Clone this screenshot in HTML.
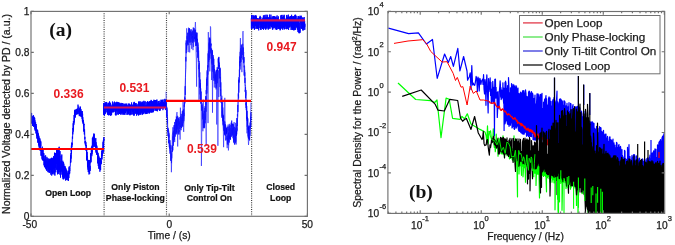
<!DOCTYPE html><html><head><meta charset="utf-8"><style>html,body{margin:0;padding:0;background:#fff}svg{display:block}</style></head><body><svg width="675" height="245" viewBox="0 0 675 245">
<rect width="675" height="245" fill="#fff"/>
<defs><clipPath id="cl"><rect x="31" y="11" width="276" height="205"/></clipPath><clipPath id="cr"><rect x="388" y="11.4" width="276" height="201.9"/></clipPath></defs>
<g stroke="#3a3a3a" stroke-width="1.15" stroke-dasharray="1.1 1.15" fill="none">
<path d="M104.1 11V216"/>
<path d="M166.5 11V216"/>
<path d="M251.6 11V216"/>
</g>
<g clip-path="url(#cl)"><path d="M31.00 120.00 L31.10 123.35 L31.20 121.97 L31.30 115.41 L31.40 116.38 L31.50 123.40 L31.60 112.95 L31.70 122.93 L31.80 122.72 L31.90 118.78 L32.00 116.84 L32.10 116.61 L32.20 116.39 L32.30 118.80 L32.40 119.61 L32.50 120.28 L32.60 125.82 L32.70 123.40 L32.80 121.37 L32.90 126.00 L33.00 116.46 L33.10 116.01 L33.20 121.91 L33.30 115.04 L33.40 115.18 L33.50 121.44 L33.60 121.07 L33.70 127.01 L33.80 123.63 L33.90 122.43 L34.00 122.46 L34.10 119.55 L34.20 116.79 L34.30 119.33 L34.40 125.95 L34.50 119.92 L34.60 122.33 L34.70 117.89 L34.80 128.74 L34.90 120.30 L35.00 122.00 L35.10 130.31 L35.20 125.93 L35.30 130.70 L35.40 128.41 L35.50 130.14 L35.60 122.08 L35.70 128.34 L35.80 128.30 L35.90 133.46 L36.00 127.18 L36.10 130.69 L36.20 124.00 L36.30 128.72 L36.40 128.26 L36.50 126.37 L36.60 135.59 L36.70 130.20 L36.80 138.56 L36.90 133.80 L37.00 134.40 L37.10 135.24 L37.20 136.16 L37.30 129.52 L37.40 133.80 L37.50 131.50 L37.60 134.09 L37.70 130.36 L37.80 142.52 L37.90 132.74 L38.00 139.33 L38.10 134.69 L38.20 142.89 L38.30 140.41 L38.40 133.57 L38.50 143.72 L38.60 145.49 L38.70 145.34 L38.80 141.16 L38.90 135.72 L39.00 136.76 L39.10 147.31 L39.20 142.52 L39.30 137.78 L39.40 147.93 L39.50 144.97 L39.60 144.37 L39.70 142.08 L39.80 142.96 L39.90 140.96 L40.00 138.53 L40.10 150.68 L40.20 145.35 L40.30 146.87 L40.40 144.09 L40.50 150.55 L40.60 140.68 L40.70 145.99 L40.80 141.53 L40.90 143.24 L41.00 155.66 L41.10 151.60 L41.20 148.67 L41.30 150.39 L41.40 155.75 L41.50 148.51 L41.60 152.40 L41.70 154.10 L41.80 149.71 L41.90 152.43 L42.00 156.35 L42.10 158.79 L42.20 148.12 L42.30 159.87 L42.40 146.68 L42.50 157.95 L42.60 159.15 L42.70 149.62 L42.80 154.11 L42.90 160.29 L43.00 148.84 L43.10 158.15 L43.20 160.84 L43.30 156.94 L43.40 160.35 L43.50 153.18 L43.60 153.01 L43.70 155.71 L43.80 153.21 L43.90 155.94 L44.00 165.22 L44.10 159.85 L44.20 156.60 L44.30 155.81 L44.40 166.31 L44.50 158.91 L44.60 167.25 L44.70 160.48 L44.80 160.82 L44.90 166.76 L45.00 164.68 L45.10 162.37 L45.20 160.19 L45.30 167.20 L45.40 160.25 L45.50 168.20 L45.60 155.32 L45.70 160.98 L45.80 162.50 L45.90 169.26 L46.00 158.68 L46.10 167.35 L46.20 165.51 L46.30 166.29 L46.40 165.10 L46.50 170.52 L46.60 160.82 L46.70 161.98 L46.80 159.11 L46.90 156.89 L47.00 159.55 L47.10 170.55 L47.20 169.48 L47.30 158.27 L47.40 166.02 L47.50 164.18 L47.60 166.08 L47.70 167.19 L47.80 161.78 L47.90 172.12 L48.00 164.46 L48.10 167.11 L48.20 167.32 L48.30 160.33 L48.40 158.51 L48.50 164.11 L48.60 169.76 L48.70 170.68 L48.80 169.43 L48.90 159.78 L49.00 172.54 L49.10 170.84 L49.20 172.09 L49.30 166.52 L49.40 172.81 L49.50 159.03 L49.60 158.82 L49.70 158.70 L49.80 162.45 L49.90 162.43 L50.00 161.50 L50.10 167.64 L50.20 159.04 L50.30 168.15 L50.40 161.09 L50.50 169.77 L50.60 158.56 L50.70 163.55 L50.80 174.61 L50.90 167.63 L51.00 172.61 L51.10 169.83 L51.20 168.94 L51.30 161.11 L51.40 168.20 L51.50 158.00 L51.60 172.49 L51.70 175.58 L51.80 173.54 L51.90 157.65 L52.00 163.27 L52.10 162.77 L52.20 158.50 L52.30 168.96 L52.40 172.49 L52.50 162.34 L52.60 173.89 L52.70 172.51 L52.80 158.09 L52.90 171.87 L53.00 174.42 L53.10 159.18 L53.20 167.45 L53.30 168.84 L53.40 168.09 L53.50 156.21 L53.60 169.14 L53.70 168.39 L53.80 172.84 L53.90 172.32 L54.00 160.85 L54.10 170.27 L54.20 173.76 L54.30 174.37 L54.40 156.21 L54.50 152.67 L54.60 168.20 L54.70 157.05 L54.80 165.83 L54.90 175.58 L55.00 160.86 L55.10 157.42 L55.20 162.65 L55.30 167.88 L55.40 152.91 L55.50 160.28 L55.60 153.44 L55.70 167.75 L55.80 172.32 L55.90 159.68 L56.00 159.41 L56.10 164.01 L56.20 154.71 L56.30 155.48 L56.40 157.70 L56.50 161.27 L56.60 150.18 L56.70 169.73 L56.80 164.54 L56.90 156.13 L57.00 149.33 L57.10 169.90 L57.20 150.68 L57.30 150.63 L57.40 150.43 L57.50 148.77 L57.60 174.38 L57.70 154.40 L57.80 155.48 L57.90 172.13 L58.00 165.34 L58.10 151.38 L58.20 159.29 L58.30 173.87 L58.40 157.21 L58.50 168.21 L58.60 147.81 L58.70 168.74 L58.80 170.39 L58.90 172.06 L59.00 166.92 L59.10 156.80 L59.20 146.77 L59.30 162.07 L59.40 170.01 L59.50 151.75 L59.60 154.42 L59.70 163.19 L59.80 169.98 L59.90 174.64 L60.00 151.02 L60.10 153.07 L60.20 171.79 L60.30 167.24 L60.40 169.58 L60.50 177.66 L60.60 175.99 L60.70 173.27 L60.80 171.46 L60.90 160.95 L61.00 167.86 L61.10 155.73 L61.20 171.42 L61.30 171.54 L61.40 170.75 L61.50 163.83 L61.60 162.41 L61.70 163.74 L61.80 154.49 L61.90 174.63 L62.00 167.52 L62.10 164.09 L62.20 168.12 L62.30 172.35 L62.40 164.81 L62.50 175.13 L62.60 177.23 L62.70 165.81 L62.80 160.77 L62.90 174.22 L63.00 179.19 L63.10 162.04 L63.20 173.65 L63.30 176.00 L63.40 177.93 L63.50 162.84 L63.60 162.58 L63.70 179.34 L63.80 163.70 L63.90 165.09 L64.00 172.30 L64.10 170.29 L64.20 175.57 L64.30 166.55 L64.40 178.43 L64.50 167.57 L64.60 176.33 L64.70 165.91 L64.80 172.21 L64.90 166.10 L65.00 170.39 L65.10 170.53 L65.20 176.35 L65.30 172.83 L65.40 167.50 L65.50 180.54 L65.60 179.20 L65.70 179.70 L65.80 170.77 L65.90 172.92 L66.00 170.84 L66.10 169.65 L66.20 168.60 L66.30 174.99 L66.40 170.14 L66.50 171.01 L66.60 180.10 L66.70 175.35 L66.80 171.61 L66.90 178.03 L67.00 173.00 L67.10 176.28 L67.20 173.11 L67.30 176.00 L67.40 177.35 L67.50 176.12 L67.60 174.30 L67.70 179.13 L67.80 180.07 L67.90 171.47 L68.00 170.90 L68.10 170.57 L68.20 180.99 L68.30 180.44 L68.40 171.85 L68.50 180.59 L68.60 171.07 L68.70 174.14 L68.80 173.57 L68.90 177.97 L69.00 167.34 L69.10 170.07 L69.20 172.88 L69.30 166.31 L69.40 167.81 L69.50 169.94 L69.60 174.15 L69.70 172.32 L69.80 172.59 L69.90 171.35 L70.00 170.28 L70.10 170.55 L70.20 167.40 L70.30 166.70 L70.40 160.61 L70.50 157.83 L70.60 163.03 L70.70 155.21 L70.80 162.24 L70.90 157.37 L71.00 153.11 L71.10 158.59 L71.20 148.68 L71.30 151.41 L71.40 145.47 L71.50 153.92 L71.60 148.34 L71.70 149.63 L71.80 142.57 L71.90 147.11 L72.00 144.76 L72.10 142.85 L72.20 145.03 L72.30 138.01 L72.40 136.55 L72.50 138.40 L72.60 138.75 L72.70 131.90 L72.80 134.40 L72.90 127.99 L73.00 130.58 L73.10 132.09 L73.20 123.25 L73.30 129.76 L73.40 120.82 L73.50 130.49 L73.60 124.05 L73.70 122.44 L73.80 125.02 L73.90 121.86 L74.00 123.27 L74.10 115.04 L74.20 119.51 L74.30 118.52 L74.40 121.82 L74.50 110.79 L74.60 115.13 L74.70 116.82 L74.80 115.58 L74.90 109.83 L75.00 115.39 L75.10 110.84 L75.20 110.20 L75.30 117.64 L75.40 109.56 L75.50 112.15 L75.60 115.19 L75.70 114.36 L75.80 112.28 L75.90 114.84 L76.00 110.61 L76.10 112.33 L76.20 114.55 L76.30 112.89 L76.40 112.42 L76.50 109.67 L76.60 111.37 L76.70 109.46 L76.80 113.41 L76.90 109.18 L77.00 110.12 L77.10 113.39 L77.20 110.44 L77.30 108.48 L77.40 114.07 L77.50 108.88 L77.60 114.18 L77.70 113.44 L77.80 109.49 L77.90 112.51 L78.00 104.61 L78.10 108.75 L78.20 114.22 L78.30 111.00 L78.40 110.77 L78.50 112.04 L78.60 112.21 L78.70 111.15 L78.80 109.28 L78.90 106.54 L79.00 107.84 L79.10 107.86 L79.20 109.49 L79.30 116.15 L79.40 108.63 L79.50 109.76 L79.60 108.90 L79.70 111.38 L79.80 115.69 L79.90 115.03 L80.00 109.06 L80.10 107.99 L80.20 115.46 L80.30 111.10 L80.40 113.58 L80.50 106.61 L80.60 116.16 L80.70 109.87 L80.80 112.24 L80.90 108.97 L81.00 111.81 L81.10 116.84 L81.20 117.07 L81.30 113.11 L81.40 116.82 L81.50 113.38 L81.60 112.60 L81.70 114.87 L81.80 111.01 L81.90 112.60 L82.00 117.45 L82.10 118.86 L82.20 111.04 L82.30 119.72 L82.40 121.37 L82.50 117.60 L82.60 113.69 L82.70 121.73 L82.80 117.18 L82.90 122.56 L83.00 120.03 L83.10 123.79 L83.20 119.91 L83.30 123.17 L83.40 124.40 L83.50 126.32 L83.60 121.85 L83.70 131.58 L83.80 124.17 L83.90 125.02 L84.00 125.08 L84.10 123.78 L84.20 129.06 L84.30 134.32 L84.40 134.58 L84.50 129.23 L84.60 129.48 L84.70 132.76 L84.80 139.38 L84.90 136.85 L85.00 143.40 L85.10 141.01 L85.20 141.56 L85.30 144.47 L85.40 145.27 L85.50 140.95 L85.60 140.79 L85.70 144.17 L85.80 145.86 L85.90 142.19 L86.00 147.21 L86.10 150.90 L86.20 145.03 L86.30 146.03 L86.40 147.50 L86.50 149.99 L86.60 160.44 L86.70 148.35 L86.80 151.54 L86.90 152.25 L87.00 157.63 L87.10 152.05 L87.20 159.40 L87.30 156.12 L87.40 158.65 L87.50 167.28 L87.60 158.74 L87.70 165.50 L87.80 162.76 L87.90 163.31 L88.00 169.68 L88.10 160.22 L88.20 172.05 L88.30 171.98 L88.40 168.99 L88.50 160.09 L88.60 169.68 L88.70 169.12 L88.80 172.08 L88.90 163.54 L89.00 174.47 L89.10 173.29 L89.20 161.55 L89.30 164.39 L89.40 159.99 L89.50 171.80 L89.60 172.89 L89.70 173.85 L89.80 168.01 L89.90 168.66 L90.00 168.68 L90.10 166.12 L90.20 170.92 L90.30 164.82 L90.40 159.80 L90.50 161.53 L90.60 153.18 L90.70 162.83 L90.80 161.44 L90.90 156.42 L91.00 161.94 L91.10 159.57 L91.20 152.35 L91.30 147.53 L91.40 147.42 L91.50 147.26 L91.60 148.33 L91.70 149.75 L91.80 156.22 L91.90 145.74 L92.00 154.31 L92.10 150.31 L92.20 152.17 L92.30 144.68 L92.40 137.95 L92.50 148.97 L92.60 140.12 L92.70 137.84 L92.80 146.96 L92.90 144.53 L93.00 136.69 L93.10 137.45 L93.20 147.45 L93.30 137.33 L93.40 143.77 L93.50 135.11 L93.60 145.33 L93.70 134.80 L93.80 140.71 L93.90 133.43 L94.00 141.08 L94.10 145.47 L94.20 133.97 L94.30 136.75 L94.40 144.04 L94.50 141.62 L94.60 137.59 L94.70 142.73 L94.80 140.52 L94.90 147.04 L95.00 138.89 L95.10 146.27 L95.20 144.84 L95.30 146.81 L95.40 141.77 L95.50 147.37 L95.60 147.38 L95.70 143.11 L95.80 138.10 L95.90 152.54 L96.00 149.20 L96.10 142.24 L96.20 150.80 L96.30 144.68 L96.40 148.21 L96.50 154.73 L96.60 149.22 L96.70 147.49 L96.80 148.42 L96.90 145.66 L97.00 148.46 L97.10 149.90 L97.20 149.09 L97.30 148.11 L97.40 154.82 L97.50 151.72 L97.60 160.11 L97.70 163.40 L97.80 154.19 L97.90 159.22 L98.00 158.77 L98.10 152.83 L98.20 154.11 L98.30 166.04 L98.40 160.41 L98.50 165.90 L98.60 155.37 L98.70 163.82 L98.80 168.41 L98.90 168.97 L99.00 156.59 L99.10 164.40 L99.20 162.19 L99.30 168.13 L99.40 157.91 L99.50 160.86 L99.60 169.15 L99.70 164.08 L99.80 163.91 L99.90 171.72 L100.00 162.07 L100.10 157.97 L100.20 163.31 L100.30 159.80 L100.40 158.15 L100.50 164.85 L100.60 170.05 L100.70 163.86 L100.80 164.29 L100.90 158.85 L101.00 161.98 L101.10 164.12 L101.20 161.09 L101.30 163.71 L101.40 159.34 L101.50 153.47 L101.60 158.57 L101.70 156.53 L101.80 150.99 L101.90 157.12 L102.00 159.42 L102.10 148.53 L102.20 154.01 L102.30 156.17 L102.40 150.55 L102.50 147.88 L102.60 148.75 L102.70 150.63 L102.80 152.13 L102.90 149.55 L103.00 142.11 L103.10 152.27 L103.20 153.36 L103.30 140.52 L103.40 142.24 L103.50 140.61 L103.60 150.24 L103.70 150.65 L103.80 137.16 L103.90 140.99 L104.00 138.39" fill="none" stroke="#0000ff" stroke-width="0.9" stroke-linejoin="round" /><path d="M103.50 108.57 L103.60 114.90 L103.70 102.98 L103.80 104.40 L103.90 108.82 L104.00 109.34 L104.10 112.43 L104.20 108.10 L104.30 103.93 L104.40 106.90 L104.50 115.73 L104.60 112.46 L104.70 103.51 L104.80 113.26 L104.90 106.22 L105.00 112.86 L105.10 101.97 L105.20 114.12 L105.30 104.06 L105.40 108.21 L105.50 111.12 L105.60 108.93 L105.70 104.04 L105.80 103.65 L105.90 105.70 L106.00 102.37 L106.10 104.70 L106.20 103.45 L106.30 108.23 L106.40 106.66 L106.50 109.96 L106.60 105.55 L106.70 101.98 L106.80 106.24 L106.90 112.34 L107.00 105.13 L107.10 107.26 L107.20 112.31 L107.30 107.27 L107.40 114.21 L107.50 114.65 L107.60 105.83 L107.70 112.00 L107.80 104.97 L107.90 103.30 L108.00 107.63 L108.10 110.02 L108.20 114.87 L108.30 103.33 L108.40 111.59 L108.50 108.12 L108.60 103.07 L108.70 115.39 L108.80 111.32 L108.90 102.97 L109.00 114.39 L109.10 102.56 L109.20 102.39 L109.30 105.90 L109.40 114.84 L109.50 101.46 L109.60 114.54 L109.70 109.99 L109.80 101.91 L109.90 109.33 L110.00 107.69 L110.10 109.24 L110.20 111.81 L110.30 110.93 L110.40 115.67 L110.50 103.12 L110.60 112.90 L110.70 106.89 L110.80 112.45 L110.90 114.07 L111.00 115.56 L111.10 104.66 L111.20 107.45 L111.30 114.81 L111.40 114.85 L111.50 106.21 L111.60 114.75 L111.70 106.68 L111.80 106.20 L111.90 111.96 L112.00 107.63 L112.10 107.30 L112.20 106.37 L112.30 107.09 L112.40 102.70 L112.50 101.54 L112.60 111.93 L112.70 109.10 L112.80 110.71 L112.90 112.66 L113.00 104.16 L113.10 104.24 L113.20 104.91 L113.30 105.31 L113.40 112.05 L113.50 106.37 L113.60 105.64 L113.70 110.24 L113.80 103.67 L113.90 102.53 L114.00 111.14 L114.10 112.01 L114.20 105.34 L114.30 110.27 L114.40 101.59 L114.50 106.95 L114.60 109.45 L114.70 104.81 L114.80 106.18 L114.90 109.93 L115.00 109.66 L115.10 103.47 L115.20 111.33 L115.30 102.46 L115.40 115.05 L115.50 104.23 L115.60 104.97 L115.70 104.24 L115.80 115.34 L115.90 105.48 L116.00 109.94 L116.10 115.31 L116.20 114.75 L116.30 102.16 L116.40 108.81 L116.50 109.92 L116.60 111.32 L116.70 106.29 L116.80 106.20 L116.90 101.78 L117.00 102.23 L117.10 109.27 L117.20 102.83 L117.30 104.57 L117.40 106.36 L117.50 102.83 L117.60 102.32 L117.70 114.38 L117.80 107.79 L117.90 104.72 L118.00 111.46 L118.10 102.15 L118.20 105.31 L118.30 114.81 L118.40 113.98 L118.50 110.52 L118.60 103.38 L118.70 106.35 L118.80 102.57 L118.90 105.09 L119.00 102.58 L119.10 103.92 L119.20 110.53 L119.30 103.63 L119.40 104.36 L119.50 114.02 L119.60 106.72 L119.70 106.70 L119.80 103.56 L119.90 112.65 L120.00 111.12 L120.10 109.48 L120.20 110.38 L120.30 103.82 L120.40 105.86 L120.50 109.96 L120.60 114.62 L120.70 112.91 L120.80 110.69 L120.90 109.16 L121.00 102.86 L121.10 113.83 L121.20 103.54 L121.30 104.33 L121.40 111.36 L121.50 112.84 L121.60 112.52 L121.70 108.38 L121.80 104.99 L121.90 103.25 L122.00 113.32 L122.10 114.87 L122.20 105.86 L122.30 113.49 L122.40 107.82 L122.50 106.72 L122.60 109.09 L122.70 103.05 L122.80 108.34 L122.90 105.40 L123.00 111.62 L123.10 109.09 L123.20 113.51 L123.30 113.84 L123.40 106.87 L123.50 106.45 L123.60 114.34 L123.70 109.14 L123.80 104.28 L123.90 103.70 L124.00 114.94 L124.10 110.05 L124.20 103.85 L124.30 109.26 L124.40 109.18 L124.50 108.38 L124.60 114.45 L124.70 114.41 L124.80 104.76 L124.90 105.09 L125.00 108.09 L125.10 113.07 L125.20 110.64 L125.30 111.88 L125.40 110.11 L125.50 105.86 L125.60 112.94 L125.70 103.61 L125.80 111.58 L125.90 105.74 L126.00 108.96 L126.10 114.82 L126.20 109.74 L126.30 104.10 L126.40 108.44 L126.50 111.15 L126.60 104.04 L126.70 106.33 L126.80 103.54 L126.90 109.72 L127.00 107.83 L127.10 109.28 L127.20 106.78 L127.30 111.11 L127.40 105.27 L127.50 114.12 L127.60 114.78 L127.70 109.11 L127.80 108.77 L127.90 113.58 L128.00 106.60 L128.10 112.89 L128.20 106.55 L128.30 111.87 L128.40 107.10 L128.50 110.42 L128.60 114.44 L128.70 103.58 L128.80 112.97 L128.90 109.65 L129.00 107.60 L129.10 107.22 L129.20 103.67 L129.30 106.04 L129.40 110.66 L129.50 103.96 L129.60 111.24 L129.70 114.99 L129.80 115.23 L129.90 114.07 L130.00 113.01 L130.10 104.89 L130.20 115.13 L130.30 105.18 L130.40 113.84 L130.50 113.96 L130.60 110.61 L130.70 109.29 L130.80 105.07 L130.90 109.26 L131.00 106.23 L131.10 104.03 L131.20 104.05 L131.30 112.98 L131.40 114.60 L131.50 104.17 L131.60 102.43 L131.70 105.78 L131.80 104.02 L131.90 104.74 L132.00 110.06 L132.10 107.87 L132.20 107.96 L132.30 104.90 L132.40 111.16 L132.50 106.02 L132.60 107.51 L132.70 108.39 L132.80 114.46 L132.90 105.37 L133.00 111.90 L133.10 106.22 L133.20 114.35 L133.30 107.38 L133.40 108.92 L133.50 114.13 L133.60 111.26 L133.70 103.12 L133.80 103.70 L133.90 115.76 L134.00 102.13 L134.10 105.98 L134.20 115.33 L134.30 101.87 L134.40 103.94 L134.50 104.67 L134.60 102.83 L134.70 108.36 L134.80 110.10 L134.90 106.13 L135.00 103.08 L135.10 113.25 L135.20 113.14 L135.30 109.62 L135.40 103.46 L135.50 109.31 L135.60 110.57 L135.70 107.64 L135.80 113.95 L135.90 107.07 L136.00 108.81 L136.10 103.05 L136.20 109.55 L136.30 112.48 L136.40 111.96 L136.50 105.08 L136.60 115.72 L136.70 111.77 L136.80 107.46 L136.90 107.33 L137.00 112.60 L137.10 103.84 L137.20 110.55 L137.30 111.69 L137.40 108.75 L137.50 113.91 L137.60 108.04 L137.70 107.97 L137.80 105.35 L137.90 114.54 L138.00 105.79 L138.10 111.27 L138.20 107.12 L138.30 114.73 L138.40 114.91 L138.50 101.59 L138.60 115.56 L138.70 109.90 L138.80 102.19 L138.90 108.32 L139.00 101.82 L139.10 109.05 L139.20 103.77 L139.30 106.41 L139.40 105.48 L139.50 109.78 L139.60 112.96 L139.70 114.61 L139.80 105.79 L139.90 109.27 L140.00 101.09 L140.10 106.39 L140.20 114.91 L140.30 102.69 L140.40 113.57 L140.50 110.41 L140.60 105.20 L140.70 112.21 L140.80 105.11 L140.90 113.88 L141.00 102.10 L141.10 102.62 L141.20 111.76 L141.30 107.38 L141.40 103.00 L141.50 108.29 L141.60 105.15 L141.70 108.80 L141.80 111.60 L141.90 113.23 L142.00 101.66 L142.10 109.38 L142.20 115.04 L142.30 107.44 L142.40 111.92 L142.50 102.16 L142.60 113.41 L142.70 109.17 L142.80 113.60 L142.90 112.12 L143.00 113.30 L143.10 101.52 L143.20 111.06 L143.30 103.53 L143.40 104.51 L143.50 105.36 L143.60 109.21 L143.70 109.73 L143.80 114.13 L143.90 100.79 L144.00 103.40 L144.10 105.84 L144.20 112.44 L144.30 108.54 L144.40 107.98 L144.50 111.57 L144.60 110.04 L144.70 104.73 L144.80 101.78 L144.90 107.21 L145.00 113.26 L145.10 109.15 L145.20 101.25 L145.30 106.82 L145.40 106.01 L145.50 108.84 L145.60 108.88 L145.70 114.09 L145.80 105.27 L145.90 106.25 L146.00 109.17 L146.10 113.05 L146.20 110.45 L146.30 107.08 L146.40 111.94 L146.50 107.24 L146.60 114.00 L146.70 104.33 L146.80 102.12 L146.90 112.04 L147.00 104.49 L147.10 112.22 L147.20 108.85 L147.30 107.42 L147.40 101.48 L147.50 111.26 L147.60 101.16 L147.70 113.70 L147.80 112.45 L147.90 104.43 L148.00 101.98 L148.10 112.48 L148.20 106.83 L148.30 101.90 L148.40 107.05 L148.50 103.56 L148.60 105.76 L148.70 108.94 L148.80 112.70 L148.90 111.10 L149.00 102.31 L149.10 106.62 L149.20 106.80 L149.30 113.57 L149.40 101.24 L149.50 107.00 L149.60 112.46 L149.70 105.44 L149.80 103.56 L149.90 107.53 L150.00 104.32 L150.10 112.48 L150.20 101.12 L150.30 102.74 L150.40 101.08 L150.50 109.45 L150.60 103.84 L150.70 111.89 L150.80 111.77 L150.90 112.30 L151.00 103.28 L151.10 99.90 L151.20 104.97 L151.30 112.49 L151.40 109.85 L151.50 100.63 L151.60 108.99 L151.70 111.74 L151.80 112.36 L151.90 109.07 L152.00 110.93 L152.10 110.62 L152.20 104.38 L152.30 101.04 L152.40 109.06 L152.50 101.50 L152.60 104.63 L152.70 112.37 L152.80 106.81 L152.90 106.30 L153.00 111.64 L153.10 103.26 L153.20 112.21 L153.30 111.08 L153.40 104.20 L153.50 103.72 L153.60 101.21 L153.70 110.97 L153.80 101.92 L153.90 99.72 L154.00 110.55 L154.10 106.93 L154.20 107.80 L154.30 108.52 L154.40 100.08 L154.50 100.67 L154.60 105.60 L154.70 100.14 L154.80 105.60 L154.90 108.37 L155.00 107.39 L155.10 106.89 L155.20 100.04 L155.30 102.32 L155.40 110.25 L155.50 100.94 L155.60 105.86 L155.70 100.04 L155.80 110.73 L155.90 101.48 L156.00 104.35 L156.10 105.99 L156.20 108.05 L156.30 110.69 L156.40 108.26 L156.50 103.56 L156.60 100.26 L156.70 107.89 L156.80 111.09 L156.90 99.53 L157.00 108.68 L157.10 101.44 L157.20 104.87 L157.30 105.62 L157.40 106.72 L157.50 111.26 L157.60 107.59 L157.70 104.01 L157.80 107.92 L157.90 104.90 L158.00 104.24 L158.10 103.66 L158.20 105.20 L158.30 102.62 L158.40 102.13 L158.50 100.99 L158.60 104.53 L158.70 102.73 L158.80 109.34 L158.90 109.47 L159.00 103.33 L159.10 106.67 L159.20 110.12 L159.30 103.49 L159.40 105.87 L159.50 104.50 L159.60 107.02 L159.70 110.80 L159.80 100.76 L159.90 110.85 L160.00 107.19 L160.10 108.77 L160.20 106.80 L160.30 109.67 L160.40 103.00 L160.50 107.67 L160.60 102.23 L160.70 105.22 L160.80 107.33 L160.90 101.43 L161.00 99.71 L161.10 108.66 L161.20 108.87 L161.30 107.11 L161.40 102.87 L161.50 107.00 L161.60 99.93 L161.70 107.04 L161.80 105.97 L161.90 106.47 L162.00 104.37 L162.10 101.63 L162.20 107.79 L162.30 104.56 L162.40 108.02 L162.50 103.31 L162.60 99.89 L162.70 105.50 L162.80 106.48 L162.90 110.17 L163.00 109.75 L163.10 99.47 L163.20 108.30 L163.30 101.98 L163.40 107.37 L163.50 103.43 L163.60 102.71 L163.70 104.76 L163.80 105.28 L163.90 107.31 L164.00 106.60 L164.10 107.09 L164.20 103.43 L164.30 107.07 L164.40 102.94 L164.50 106.19 L164.60 104.34 L164.70 105.62 L164.80 98.83 L164.90 104.81 L165.00 101.33 L165.10 103.39 L165.20 99.49 L165.30 106.75 L165.40 109.70 L165.50 102.97 L165.60 99.85 L165.70 106.27 L165.80 100.10 L165.90 109.65 L166.00 100.03" fill="none" stroke="#0000ff" stroke-width="0.9" stroke-linejoin="round" /><path d="M166.00 102.34 L166.10 105.04 L166.20 101.56 L166.30 105.09 L166.40 105.64 L166.50 112.13 L166.60 116.63 L166.70 109.99 L166.80 116.44 L166.90 109.37 L167.00 116.01 L167.10 115.48 L167.20 114.96 L167.30 123.14 L167.40 123.52 L167.50 116.91 L167.60 120.29 L167.70 128.53 L167.80 132.17 L167.90 128.48 L168.00 133.29 L168.10 136.16 L168.20 134.24 L168.30 134.29 L168.40 129.88 L168.50 133.23 L168.60 137.70 L168.70 142.88 L168.80 135.25 L168.90 137.54 L169.00 133.31 L169.10 143.77 L169.20 141.20 L169.30 147.23 L169.40 140.20 L169.50 147.29 L169.60 148.49 L169.70 146.48 L169.80 143.47 L169.90 147.58 L170.00 153.59 L170.10 145.95 L170.20 145.00 L170.30 151.05 L170.40 148.17 L170.50 157.17 L170.60 157.98 L170.70 160.47 L170.80 159.43 L170.90 157.05 L171.00 150.53 L171.10 160.84 L171.20 159.93 L171.30 160.77 L171.40 160.55 L171.50 163.17 L171.60 153.62 L171.70 158.32 L171.80 154.67 L171.90 150.62 L172.00 149.23 L172.10 145.26 L172.20 149.46 L172.30 146.27 L172.40 145.92 L172.50 151.74 L172.60 147.78 L172.70 146.57 L172.80 150.40 L172.90 136.52 L173.00 140.13 L173.10 132.58 L173.20 137.00 L173.30 145.80 L173.40 130.59 L173.50 141.38 L173.60 142.64 L173.70 135.95 L173.80 140.32 L173.90 133.58 L174.00 131.46 L174.10 133.50 L174.20 127.47 L174.30 128.82 L174.40 128.17 L174.50 139.63 L174.60 127.48 L174.70 124.97 L174.80 137.06 L174.90 122.12 L175.00 136.38 L175.10 134.15 L175.20 130.24 L175.30 126.11 L175.40 121.78 L175.50 119.96 L175.60 119.72 L175.70 123.91 L175.80 124.75 L175.90 133.74 L176.00 126.64 L176.10 134.51 L176.20 129.52 L176.30 119.14 L176.40 126.15 L176.50 118.98 L176.60 116.67 L176.70 132.42 L176.80 121.55 L176.90 118.74 L177.00 117.01 L177.10 126.77 L177.20 123.52 L177.30 115.76 L177.40 128.16 L177.50 120.26 L177.60 129.49 L177.70 124.50 L177.80 125.42 L177.90 124.16 L178.00 128.05 L178.10 133.58 L178.20 130.35 L178.30 117.86 L178.40 125.31 L178.50 120.92 L178.60 118.76 L178.70 120.46 L178.80 121.48 L178.90 133.78 L179.00 130.19 L179.10 131.83 L179.20 128.99 L179.30 122.26 L179.40 123.35 L179.50 123.99 L179.60 121.29 L179.70 123.27 L179.80 128.99 L179.90 117.02 L180.00 120.23 L180.10 123.45 L180.20 126.57 L180.30 125.85 L180.40 126.98 L180.50 116.38 L180.60 117.45 L180.70 119.40 L180.80 118.75 L180.90 126.47 L181.00 130.22 L181.10 124.85 L181.20 113.84 L181.30 118.04 L181.40 126.22 L181.50 128.03 L181.60 122.37 L181.70 118.10 L181.80 118.01 L181.90 122.40 L182.00 125.99 L182.10 117.19 L182.20 114.53 L182.30 111.26 L182.40 113.27 L182.50 124.74 L182.60 120.83 L182.70 126.59 L182.80 111.40 L182.90 116.02 L183.00 122.80 L183.10 120.08 L183.20 109.92 L183.30 114.81 L183.40 118.09 L183.50 118.36 L183.60 114.02 L183.70 109.26 L183.80 121.21 L183.90 112.66 L184.00 116.14 L184.10 112.69 L184.20 104.89 L184.30 106.85 L184.40 103.54 L184.50 105.05 L184.60 102.70 L184.70 103.64 L184.80 99.65 L184.90 97.80 L185.00 102.57 L185.10 87.34 L185.20 86.15 L185.30 94.92 L185.40 84.83 L185.50 77.59 L185.60 69.13 L185.70 67.82 L185.80 56.97 L185.90 61.45 L186.00 55.18 L186.10 46.15 L186.20 40.39 L186.30 53.20 L186.40 42.78 L186.50 47.51 L186.60 49.73 L186.70 47.77 L186.80 47.80 L186.90 40.83 L187.00 45.48 L187.10 39.18 L187.20 35.82 L187.30 39.10 L187.40 36.57 L187.50 43.27 L187.60 44.11 L187.70 32.86 L187.80 33.03 L187.90 36.34 L188.00 37.41 L188.10 45.10 L188.20 44.67 L188.30 44.87 L188.40 40.88 L188.50 39.84 L188.60 33.13 L188.70 34.56 L188.80 28.44 L188.90 41.53 L189.00 32.42 L189.10 29.30 L189.20 33.12 L189.30 33.27 L189.40 39.72 L189.50 28.26 L189.60 31.88 L189.70 42.58 L189.80 41.94 L189.90 38.36 L190.00 37.28 L190.10 31.92 L190.20 42.43 L190.30 40.64 L190.40 36.68 L190.50 31.01 L190.60 31.92 L190.70 34.60 L190.80 33.84 L190.90 29.45 L191.00 35.13 L191.10 35.86 L191.20 33.22 L191.30 34.86 L191.40 34.02 L191.50 34.79 L191.60 38.85 L191.70 36.86 L191.80 31.88 L191.90 41.92 L192.00 37.22 L192.10 36.27 L192.20 40.53 L192.30 41.17 L192.40 42.79 L192.50 42.12 L192.60 39.68 L192.70 40.54 L192.80 30.86 L192.90 40.12 L193.00 32.44 L193.10 32.46 L193.20 30.04 L193.30 34.78 L193.40 28.20 L193.50 39.23 L193.60 40.79 L193.70 41.25 L193.80 29.90 L193.90 38.84 L194.00 42.29 L194.10 28.11 L194.20 30.85 L194.30 32.12 L194.40 35.52 L194.50 30.33 L194.60 36.83 L194.70 33.31 L194.80 38.85 L194.90 36.60 L195.00 39.35 L195.10 31.72 L195.20 40.34 L195.30 41.15 L195.40 41.23 L195.50 29.65 L195.60 45.94 L195.70 39.51 L195.80 34.23 L195.90 37.49 L196.00 39.32 L196.10 39.63 L196.20 34.94 L196.30 35.55 L196.40 37.67 L196.50 45.73 L196.60 39.63 L196.70 32.48 L196.80 40.51 L196.90 36.10 L197.00 32.83 L197.10 52.05 L197.20 40.24 L197.30 45.91 L197.40 43.58 L197.50 38.85 L197.60 56.03 L197.70 57.78 L197.80 44.54 L197.90 50.03 L198.00 50.24 L198.10 47.33 L198.20 57.92 L198.30 61.31 L198.40 61.96 L198.50 61.40 L198.60 50.42 L198.70 56.33 L198.80 63.69 L198.90 69.17 L199.00 64.77 L199.10 67.80 L199.20 77.31 L199.30 63.00 L199.40 69.63 L199.50 71.84 L199.60 87.58 L199.70 74.18 L199.80 72.38 L199.90 81.53 L200.00 87.99 L200.10 79.40 L200.20 94.46 L200.30 82.93 L200.40 94.42 L200.50 84.90 L200.60 100.63 L200.70 88.36 L200.80 100.29 L200.90 103.77 L201.00 93.43 L201.10 91.52 L201.20 102.72 L201.30 102.31 L201.40 103.25 L201.50 110.63 L201.60 105.13 L201.70 106.67 L201.80 107.35 L201.90 107.56 L202.00 107.45 L202.10 103.42 L202.20 106.97 L202.30 107.23 L202.40 107.76 L202.50 119.32 L202.60 106.81 L202.70 109.51 L202.80 116.79 L202.90 113.38 L203.00 112.80 L203.10 115.60 L203.20 118.31 L203.30 121.89 L203.40 127.98 L203.50 125.72 L203.60 117.40 L203.70 117.97 L203.80 117.38 L203.90 113.98 L204.00 128.37 L204.10 110.84 L204.20 113.70 L204.30 122.97 L204.40 121.66 L204.50 115.57 L204.60 127.74 L204.70 116.19 L204.80 118.93 L204.90 107.82 L205.00 122.82 L205.10 106.06 L205.20 110.88 L205.30 119.71 L205.40 119.90 L205.50 118.08 L205.60 115.55 L205.70 102.67 L205.80 97.64 L205.90 105.04 L206.00 96.26 L206.10 111.71 L206.20 90.16 L206.30 94.01 L206.40 89.07 L206.50 82.77 L206.60 89.98 L206.70 79.02 L206.80 93.00 L206.90 86.25 L207.00 77.40 L207.10 85.16 L207.20 82.60 L207.30 71.53 L207.40 80.28 L207.50 80.25 L207.60 72.40 L207.70 65.37 L207.80 74.68 L207.90 73.86 L208.00 60.28 L208.10 53.39 L208.20 67.36 L208.30 61.63 L208.40 51.31 L208.50 56.34 L208.60 50.50 L208.70 62.05 L208.80 49.84 L208.90 46.26 L209.00 42.53 L209.10 47.85 L209.20 60.12 L209.30 44.03 L209.40 48.16 L209.50 57.78 L209.60 37.80 L209.70 42.90 L209.80 52.76 L209.90 37.58 L210.00 53.57 L210.10 52.19 L210.20 38.86 L210.30 48.35 L210.40 48.11 L210.50 51.37 L210.60 44.14 L210.70 46.18 L210.80 43.82 L210.90 45.34 L211.00 43.51 L211.10 58.59 L211.20 58.75 L211.30 48.70 L211.40 55.86 L211.50 52.31 L211.60 48.62 L211.70 50.49 L211.80 63.30 L211.90 51.33 L212.00 56.57 L212.10 64.65 L212.20 52.45 L212.30 63.43 L212.40 50.28 L212.50 63.42 L212.60 65.63 L212.70 67.00 L212.80 70.50 L212.90 65.97 L213.00 72.04 L213.10 58.82 L213.20 64.43 L213.30 59.03 L213.40 57.17 L213.50 65.03 L213.60 71.39 L213.70 73.32 L213.80 58.84 L213.90 78.09 L214.00 64.94 L214.10 66.34 L214.20 77.65 L214.30 79.38 L214.40 76.73 L214.50 69.16 L214.60 72.26 L214.70 80.19 L214.80 71.15 L214.90 80.61 L215.00 80.64 L215.10 74.87 L215.20 83.91 L215.30 74.20 L215.40 81.98 L215.50 80.28 L215.60 74.65 L215.70 79.13 L215.80 81.10 L215.90 80.23 L216.00 72.30 L216.10 89.38 L216.20 88.54 L216.30 69.88 L216.40 87.41 L216.50 78.95 L216.60 70.65 L216.70 83.96 L216.80 76.02 L216.90 81.17 L217.00 83.07 L217.10 77.08 L217.20 67.21 L217.30 81.95 L217.40 79.11 L217.50 82.97 L217.60 69.54 L217.70 78.53 L217.80 79.23 L217.90 68.19 L218.00 68.26 L218.10 65.79 L218.20 58.47 L218.30 61.83 L218.40 62.76 L218.50 57.47 L218.60 69.10 L218.70 61.60 L218.80 63.31 L218.90 56.88 L219.00 57.33 L219.10 66.50 L219.20 62.76 L219.30 66.84 L219.40 65.20 L219.50 69.42 L219.60 77.54 L219.70 67.26 L219.80 73.69 L219.90 78.54 L220.00 68.86 L220.10 87.05 L220.20 79.98 L220.30 76.87 L220.40 88.23 L220.50 90.93 L220.60 89.12 L220.70 96.13 L220.80 82.31 L220.90 92.18 L221.00 97.87 L221.10 102.77 L221.20 99.30 L221.30 100.24 L221.40 97.92 L221.50 103.00 L221.60 104.35 L221.70 112.50 L221.80 112.71 L221.90 112.71 L222.00 117.82 L222.10 102.76 L222.20 116.46 L222.30 111.58 L222.40 117.62 L222.50 110.01 L222.60 113.90 L222.70 121.19 L222.80 107.51 L222.90 112.94 L223.00 117.29 L223.10 124.65 L223.20 114.82 L223.30 125.62 L223.40 115.87 L223.50 117.68 L223.60 122.97 L223.70 125.53 L223.80 130.36 L223.90 131.09 L224.00 120.50 L224.10 129.82 L224.20 128.23 L224.30 124.15 L224.40 131.57 L224.50 134.16 L224.60 127.03 L224.70 135.29 L224.80 121.50 L224.90 122.59 L225.00 133.76 L225.10 125.90 L225.20 131.34 L225.30 130.15 L225.40 124.22 L225.50 135.58 L225.60 135.75 L225.70 125.41 L225.80 127.88 L225.90 138.01 L226.00 140.42 L226.10 139.86 L226.20 133.43 L226.30 131.21 L226.40 132.81 L226.50 128.17 L226.60 134.13 L226.70 129.56 L226.80 128.52 L226.90 132.65 L227.00 127.15 L227.10 134.67 L227.20 138.93 L227.30 138.33 L227.40 144.35 L227.50 142.94 L227.60 138.61 L227.70 143.56 L227.80 135.60 L227.90 142.18 L228.00 133.12 L228.10 137.28 L228.20 145.24 L228.30 138.18 L228.40 136.32 L228.50 141.17 L228.60 132.42 L228.70 141.56 L228.80 126.73 L228.90 130.49 L229.00 129.19 L229.10 130.43 L229.20 142.62 L229.30 125.83 L229.40 130.58 L229.50 135.34 L229.60 137.46 L229.70 138.53 L229.80 131.30 L229.90 128.16 L230.00 139.34 L230.10 125.95 L230.20 124.67 L230.30 127.42 L230.40 131.87 L230.50 139.71 L230.60 135.62 L230.70 132.40 L230.80 131.38 L230.90 134.23 L231.00 132.78 L231.10 127.30 L231.20 122.67 L231.30 124.37 L231.40 134.59 L231.50 131.67 L231.60 134.35 L231.70 120.55 L231.80 135.71 L231.90 126.13 L232.00 135.67 L232.10 130.05 L232.20 129.55 L232.30 134.78 L232.40 131.66 L232.50 132.89 L232.60 123.94 L232.70 132.33 L232.80 128.22 L232.90 123.51 L233.00 124.90 L233.10 131.49 L233.20 127.93 L233.30 137.33 L233.40 126.10 L233.50 124.50 L233.60 142.55 L233.70 130.58 L233.80 134.48 L233.90 129.43 L234.00 129.76 L234.10 133.39 L234.20 140.52 L234.30 127.15 L234.40 141.67 L234.50 144.57 L234.60 136.96 L234.70 133.53 L234.80 131.41 L234.90 130.64 L235.00 133.32 L235.10 142.98 L235.20 127.86 L235.30 142.10 L235.40 140.11 L235.50 128.59 L235.60 129.65 L235.70 141.78 L235.80 140.82 L235.90 134.49 L236.00 144.50 L236.10 131.58 L236.20 134.28 L236.30 127.47 L236.40 135.82 L236.50 124.57 L236.60 125.03 L236.70 134.39 L236.80 128.40 L236.90 130.11 L237.00 130.21 L237.10 126.72 L237.20 118.16 L237.30 125.97 L237.40 114.29 L237.50 115.86 L237.60 116.40 L237.70 107.73 L237.80 104.91 L237.90 112.07 L238.00 111.02 L238.10 101.67 L238.20 99.35 L238.30 93.40 L238.40 96.39 L238.50 94.78 L238.60 98.47 L238.70 79.73 L238.80 92.69 L238.90 91.50 L239.00 77.23 L239.10 82.40 L239.20 82.51 L239.30 77.72 L239.40 69.53 L239.50 73.88 L239.60 76.78 L239.70 61.26 L239.80 66.31 L239.90 56.41 L240.00 69.54 L240.10 66.68 L240.20 51.83 L240.30 62.76 L240.40 60.11 L240.50 48.27 L240.60 55.12 L240.70 57.74 L240.80 51.04 L240.90 53.74 L241.00 61.90 L241.10 55.44 L241.20 52.70 L241.30 44.52 L241.40 45.18 L241.50 57.98 L241.60 55.70 L241.70 57.03 L241.80 52.07 L241.90 51.70 L242.00 50.55 L242.10 54.56 L242.20 47.61 L242.30 50.94 L242.40 50.79 L242.50 54.58 L242.60 46.89 L242.70 43.78 L242.80 45.26 L242.90 47.23 L243.00 59.76 L243.10 57.57 L243.20 58.50 L243.30 53.33 L243.40 47.52 L243.50 54.37 L243.60 63.20 L243.70 58.50 L243.80 62.37 L243.90 59.40 L244.00 57.03 L244.10 67.28 L244.20 66.40 L244.30 65.55 L244.40 65.65 L244.50 75.19 L244.60 70.06 L244.70 76.37 L244.80 72.34 L244.90 82.89 L245.00 77.75 L245.10 81.61 L245.20 91.70 L245.30 89.93 L245.40 92.25 L245.50 87.11 L245.60 98.13 L245.70 91.94 L245.80 104.79 L245.90 105.13 L246.00 102.86 L246.10 107.97 L246.20 104.79 L246.30 110.20 L246.40 101.25 L246.50 118.79 L246.60 116.60 L246.70 105.96 L246.80 108.97 L246.90 116.15 L247.00 120.73 L247.10 110.88 L247.20 126.69 L247.30 116.83 L247.40 129.71 L247.50 126.55 L247.60 122.94 L247.70 121.93 L247.80 118.34 L247.90 119.38 L248.00 130.33 L248.10 133.39 L248.20 136.27 L248.30 126.97 L248.40 137.74 L248.50 126.68 L248.60 138.72 L248.70 138.81 L248.80 125.52 L248.90 138.69 L249.00 136.33 L249.10 136.78 L249.20 139.73 L249.30 134.73 L249.40 134.66 L249.50 132.61 L249.60 140.57 L249.70 140.22 L249.80 125.89 L249.90 135.90 L250.00 125.96 L250.10 123.31 L250.20 122.55 L250.30 128.32 L250.40 122.04 L250.50 120.36 L250.60 116.77 L250.70 119.84 L250.80 126.93 L250.90 112.39 L251.00 119.69" fill="none" stroke="#0000ff" stroke-width="0.7" stroke-linejoin="round" /><path d="M166.00 91.67 L166.30 104.75 L166.60 105.96 L166.90 117.27 L167.20 107.52 L167.50 131.64 L167.80 127.58 L168.10 136.20 L168.40 128.57 L168.70 131.28 L169.00 131.71 L169.30 138.97 L169.60 146.05 L169.90 147.66 L170.20 140.28 L170.50 150.62 L170.80 147.32 L171.10 157.12 L171.40 172.23 L171.70 160.60 L172.00 149.47 L172.30 135.17 L172.60 133.18 L172.90 127.22 L173.20 144.87 L173.50 130.55 L173.80 125.27 L174.10 128.06 L174.40 132.39 L174.70 142.03 L175.00 121.97 L175.30 124.41 L175.60 119.76 L175.90 133.80 L176.20 116.72 L176.50 115.24 L176.80 112.49 L177.10 112.07 L177.40 128.41 L177.70 146.46 L178.00 116.61 L178.30 133.29 L178.60 127.70 L178.90 134.88 L179.20 123.31 L179.50 123.08 L179.80 118.73 L180.10 139.59 L180.40 107.68 L180.70 125.69 L181.00 124.67 L181.30 116.75 L181.60 122.00 L181.90 127.18 L182.20 120.81 L182.50 122.29 L182.80 123.84 L183.10 101.60 L183.40 127.36 L183.70 131.89 L184.00 120.22 L184.30 118.87 L184.60 96.66 L184.90 99.09 L185.20 86.25 L185.50 74.05 L185.80 68.87 L186.10 42.81 L186.40 45.00 L186.70 28.30 L187.00 38.78 L187.30 40.09 L187.60 33.37 L187.90 32.66 L188.20 52.13 L188.50 27.68 L188.80 28.31 L189.10 29.80 L189.40 45.36 L189.70 52.42 L190.00 38.89 L190.30 30.84 L190.60 33.16 L190.90 45.15 L191.20 29.36 L191.50 48.74 L191.80 48.68 L192.10 37.56 L192.40 42.35 L192.70 43.21 L193.00 50.17 L193.30 27.33 L193.60 46.97 L193.90 32.99 L194.20 29.29 L194.50 37.11 L194.80 34.08 L195.10 27.03 L195.40 22.05 L195.70 29.07 L196.00 53.06 L196.30 59.09 L196.60 86.67 L196.90 53.53 L197.20 38.93 L197.50 46.55 L197.80 53.44 L198.10 42.52 L198.40 46.57 L198.70 62.63 L199.00 99.84 L199.30 60.95 L199.60 82.00 L199.90 80.31 L200.20 98.90 L200.50 91.61 L200.80 92.36 L201.10 101.07 L201.40 165.96 L201.70 142.92 L202.00 104.91 L202.30 120.18 L202.60 121.65 L202.90 131.28 L203.20 99.64 L203.50 114.34 L203.80 114.51 L204.10 121.36 L204.40 114.89 L204.70 112.35 L205.00 123.61 L205.30 113.96 L205.60 96.17 L205.90 120.68 L206.20 145.56 L206.50 86.19 L206.80 94.14 L207.10 70.25 L207.40 85.72 L207.70 65.94 L208.00 123.11 L208.30 32.08 L208.60 45.91 L208.90 54.45 L209.20 52.26 L209.50 48.73 L209.80 71.36 L210.10 58.82 L210.40 26.42 L210.70 27.64 L211.00 52.69 L211.30 50.36 L211.60 80.05 L211.90 50.22 L212.20 54.52 L212.50 112.72 L212.80 54.96 L213.10 56.83 L213.40 55.34 L213.70 80.82 L214.00 69.83 L214.30 87.51 L214.60 70.25 L214.90 75.29 L215.20 74.13 L215.50 82.53 L215.80 87.93 L216.10 82.24 L216.40 71.49 L216.70 124.49 L217.00 94.11 L217.30 88.50 L217.60 70.98 L217.90 145.77 L218.20 79.12 L218.50 70.42 L218.80 97.06 L219.10 85.19 L219.40 70.57 L219.70 77.06 L220.00 74.99 L220.30 67.94 L220.60 73.81 L220.90 95.56 L221.20 100.38 L221.50 99.41 L221.80 95.73 L222.10 97.39 L222.40 109.99 L222.70 101.97 L223.00 125.63 L223.30 130.09 L223.60 147.17 L223.90 132.00 L224.20 120.58 L224.50 119.33 L224.80 97.82 L225.10 124.16 L225.40 129.04 L225.70 140.32 L226.00 138.38 L226.30 138.78 L226.60 136.08 L226.90 140.62 L227.20 148.14 L227.50 126.63 L227.80 132.58 L228.10 124.58 L228.40 150.44 L228.70 147.01 L229.00 141.62 L229.30 123.85 L229.60 135.32 L229.90 131.14 L230.20 133.21 L230.50 130.09 L230.80 135.58 L231.10 126.78 L231.40 137.02 L231.70 130.87 L232.00 125.42 L232.30 128.07 L232.60 126.22 L232.90 138.31 L233.20 129.81 L233.50 135.85 L233.80 130.85 L234.10 122.08 L234.40 143.57 L234.70 126.74 L235.00 142.48 L235.30 140.65 L235.60 122.83 L235.90 129.54 L236.20 131.08 L236.50 124.78 L236.80 118.00 L237.10 131.31 L237.40 119.09 L237.70 118.06 L238.00 102.88 L238.30 101.35 L238.60 84.06 L238.90 82.43 L239.20 81.79 L239.50 72.06 L239.80 62.64 L240.10 52.10 L240.40 38.09 L240.70 57.37 L241.00 51.06 L241.30 45.56 L241.60 56.11 L241.90 72.17 L242.20 48.01 L242.50 54.63 L242.80 32.10 L243.10 31.08 L243.40 55.76 L243.70 52.12 L244.00 75.52 L244.30 66.10 L244.60 66.49 L244.90 76.41 L245.20 85.47 L245.50 85.07 L245.80 95.54 L246.10 90.08 L246.40 106.02 L246.70 119.23 L247.00 133.33 L247.30 125.82 L247.60 125.59 L247.90 137.22 L248.20 137.90 L248.50 144.98 L248.80 141.26 L249.10 132.10 L249.40 136.81 L249.70 134.58 L250.00 132.66 L250.30 128.76 L250.60 117.11 L250.90 102.49" fill="none" stroke="#1a1aff" stroke-width="0.6" stroke-linejoin="round" /><path d="M251.20 18.33 L251.30 24.49 L251.40 28.67 L251.50 19.66 L251.60 15.30 L251.70 17.78 L251.80 29.04 L251.90 15.09 L252.00 15.81 L252.10 16.48 L252.20 28.44 L252.30 20.78 L252.40 25.43 L252.50 25.65 L252.60 21.55 L252.70 26.05 L252.80 21.96 L252.90 23.18 L253.00 19.64 L253.10 15.03 L253.20 23.97 L253.30 19.02 L253.40 19.16 L253.50 28.30 L253.60 20.48 L253.70 16.55 L253.80 24.55 L253.90 23.16 L254.00 15.87 L254.10 20.29 L254.20 24.28 L254.30 19.25 L254.40 29.98 L254.50 27.14 L254.60 22.66 L254.70 28.92 L254.80 15.53 L254.90 18.42 L255.00 28.93 L255.10 22.75 L255.20 17.59 L255.30 23.69 L255.40 26.13 L255.50 24.20 L255.60 15.70 L255.70 15.56 L255.80 21.21 L255.90 15.25 L256.00 16.28 L256.10 24.82 L256.20 21.70 L256.30 16.31 L256.40 28.41 L256.50 20.64 L256.60 28.52 L256.70 24.33 L256.80 24.51 L256.90 21.50 L257.00 25.30 L257.10 18.74 L257.20 18.95 L257.30 28.43 L257.40 18.13 L257.50 20.93 L257.60 26.44 L257.70 20.07 L257.80 20.63 L257.90 28.99 L258.00 18.18 L258.10 18.71 L258.20 28.66 L258.30 19.24 L258.40 20.09 L258.50 28.60 L258.60 19.95 L258.70 30.38 L258.80 27.68 L258.90 28.07 L259.00 18.49 L259.10 18.35 L259.20 26.63 L259.30 27.78 L259.40 18.47 L259.50 18.19 L259.60 18.77 L259.70 17.13 L259.80 21.52 L259.90 22.79 L260.00 24.74 L260.10 15.85 L260.20 17.97 L260.30 16.80 L260.40 19.17 L260.50 17.85 L260.60 29.48 L260.70 20.75 L260.80 17.11 L260.90 25.28 L261.00 30.03 L261.10 27.26 L261.20 24.99 L261.30 20.80 L261.40 21.18 L261.50 19.61 L261.60 27.42 L261.70 27.37 L261.80 22.50 L261.90 28.26 L262.00 25.01 L262.10 25.52 L262.20 19.06 L262.30 18.63 L262.40 18.41 L262.50 29.02 L262.60 27.27 L262.70 28.80 L262.80 27.61 L262.90 27.33 L263.00 21.61 L263.10 26.71 L263.20 17.42 L263.30 25.00 L263.40 15.49 L263.50 29.79 L263.60 28.45 L263.70 17.37 L263.80 26.73 L263.90 27.57 L264.00 15.45 L264.10 23.57 L264.20 21.30 L264.30 24.38 L264.40 28.52 L264.50 25.98 L264.60 18.04 L264.70 23.36 L264.80 23.47 L264.90 14.93 L265.00 16.79 L265.10 20.32 L265.20 17.50 L265.30 18.41 L265.40 25.21 L265.50 29.63 L265.60 21.82 L265.70 24.73 L265.80 26.51 L265.90 25.14 L266.00 24.88 L266.10 14.71 L266.20 28.17 L266.30 17.18 L266.40 17.48 L266.50 22.58 L266.60 23.77 L266.70 26.38 L266.80 19.20 L266.90 29.31 L267.00 24.39 L267.10 27.73 L267.20 22.03 L267.30 15.74 L267.40 14.82 L267.50 24.55 L267.60 21.23 L267.70 21.44 L267.80 19.66 L267.90 17.37 L268.00 21.94 L268.10 18.54 L268.20 28.43 L268.30 17.36 L268.40 29.58 L268.50 27.91 L268.60 20.52 L268.70 26.54 L268.80 23.56 L268.90 21.78 L269.00 27.14 L269.10 27.42 L269.20 17.66 L269.30 28.58 L269.40 15.03 L269.50 14.61 L269.60 22.02 L269.70 19.19 L269.80 21.06 L269.90 21.93 L270.00 21.76 L270.10 28.58 L270.20 28.74 L270.30 19.88 L270.40 18.98 L270.50 24.66 L270.60 17.61 L270.70 20.74 L270.80 25.67 L270.90 14.63 L271.00 26.51 L271.10 25.93 L271.20 20.56 L271.30 18.41 L271.40 22.94 L271.50 19.16 L271.60 27.31 L271.70 23.74 L271.80 19.34 L271.90 27.11 L272.00 24.02 L272.10 16.65 L272.20 21.03 L272.30 22.21 L272.40 29.26 L272.50 19.60 L272.60 21.58 L272.70 29.78 L272.80 21.25 L272.90 27.47 L273.00 16.15 L273.10 20.76 L273.20 17.51 L273.30 28.37 L273.40 23.24 L273.50 18.06 L273.60 16.11 L273.70 21.21 L273.80 16.18 L273.90 22.22 L274.00 26.00 L274.10 19.52 L274.20 17.31 L274.30 20.32 L274.40 17.30 L274.50 27.80 L274.60 16.22 L274.70 26.22 L274.80 19.91 L274.90 26.03 L275.00 26.70 L275.10 16.85 L275.20 26.49 L275.30 29.42 L275.40 23.56 L275.50 24.77 L275.60 19.78 L275.70 17.49 L275.80 26.33 L275.90 27.51 L276.00 18.00 L276.10 16.56 L276.20 20.27 L276.30 24.52 L276.40 20.48 L276.50 29.77 L276.60 27.10 L276.70 29.04 L276.80 24.13 L276.90 26.56 L277.00 29.59 L277.10 15.41 L277.20 23.77 L277.30 17.76 L277.40 27.19 L277.50 18.48 L277.60 26.38 L277.70 20.04 L277.80 24.99 L277.90 25.42 L278.00 28.99 L278.10 28.43 L278.20 21.70 L278.30 25.59 L278.40 17.75 L278.50 16.45 L278.60 26.00 L278.70 28.99 L278.80 26.51 L278.90 22.95 L279.00 24.71 L279.10 26.27 L279.20 23.78 L279.30 20.59 L279.40 28.16 L279.50 20.70 L279.60 28.99 L279.70 27.38 L279.80 27.28 L279.90 27.92 L280.00 30.30 L280.10 30.34 L280.20 22.76 L280.30 20.83 L280.40 26.34 L280.50 29.98 L280.60 24.74 L280.70 15.36 L280.80 15.56 L280.90 22.15 L281.00 27.16 L281.10 28.70 L281.20 20.75 L281.30 22.95 L281.40 22.88 L281.50 16.39 L281.60 14.93 L281.70 23.03 L281.80 22.73 L281.90 28.29 L282.00 17.72 L282.10 28.11 L282.20 19.09 L282.30 23.24 L282.40 25.84 L282.50 17.13 L282.60 29.54 L282.70 29.71 L282.80 29.89 L282.90 14.89 L283.00 24.82 L283.10 25.25 L283.20 28.48 L283.30 17.96 L283.40 16.75 L283.50 27.37 L283.60 18.88 L283.70 15.84 L283.80 16.23 L283.90 24.81 L284.00 23.11 L284.10 26.39 L284.20 27.30 L284.30 14.83 L284.40 29.24 L284.50 28.41 L284.60 29.23 L284.70 26.68 L284.80 20.71 L284.90 18.60 L285.00 28.89 L285.10 21.26 L285.20 22.30 L285.30 25.56 L285.40 25.40 L285.50 25.47 L285.60 24.39 L285.70 22.60 L285.80 26.60 L285.90 20.84 L286.00 18.77 L286.10 28.79 L286.20 27.80 L286.30 25.81 L286.40 17.29 L286.50 15.38 L286.60 28.97 L286.70 29.28 L286.80 18.88 L286.90 24.41 L287.00 14.93 L287.10 20.75 L287.20 25.55 L287.30 20.23 L287.40 27.14 L287.50 28.77 L287.60 16.75 L287.70 25.28 L287.80 20.44 L287.90 17.31 L288.00 20.01 L288.10 22.06 L288.20 28.48 L288.30 26.45 L288.40 14.66 L288.50 15.45 L288.60 29.97 L288.70 23.19 L288.80 24.02 L288.90 20.02 L289.00 27.44 L289.10 23.18 L289.20 23.73 L289.30 18.40 L289.40 26.57 L289.50 17.84 L289.60 16.65 L289.70 23.77 L289.80 27.41 L289.90 19.05 L290.00 19.18 L290.10 16.82 L290.20 23.87 L290.30 26.49 L290.40 16.46 L290.50 22.84 L290.60 22.92 L290.70 16.17 L290.80 22.79 L290.90 18.75 L291.00 17.62 L291.10 29.96 L291.20 15.92 L291.30 19.90 L291.40 24.23 L291.50 20.88 L291.60 14.78 L291.70 28.17 L291.80 18.28 L291.90 21.02 L292.00 28.89 L292.10 29.87 L292.20 29.01 L292.30 21.03 L292.40 26.33 L292.50 28.00 L292.60 17.64 L292.70 29.96 L292.80 16.12 L292.90 25.01 L293.00 18.32 L293.10 17.94 L293.20 16.70 L293.30 29.62 L293.40 16.56 L293.50 29.18 L293.60 17.17 L293.70 19.81 L293.80 17.91 L293.90 30.46 L294.00 16.00 L294.10 28.44 L294.20 19.37 L294.30 29.94 L294.40 26.68 L294.50 18.79 L294.60 22.79 L294.70 17.12 L294.80 21.14 L294.90 14.93 L295.00 25.63 L295.10 24.20 L295.20 18.95 L295.30 14.72 L295.40 29.90 L295.50 16.55 L295.60 19.89 L295.70 14.92 L295.80 20.81 L295.90 21.12 L296.00 23.30 L296.10 19.87 L296.20 18.67 L296.30 27.70 L296.40 19.21 L296.50 20.14 L296.60 22.90 L296.70 19.21 L296.80 27.07 L296.90 15.96 L297.00 20.15 L297.10 21.91 L297.20 19.07 L297.30 29.45 L297.40 20.84 L297.50 22.07 L297.60 22.99 L297.70 29.61 L297.80 18.50 L297.90 29.75 L298.00 32.04 L298.10 19.45 L298.20 17.67 L298.30 29.33 L298.40 20.41 L298.50 18.82 L298.60 15.99 L298.70 26.28 L298.80 32.58 L298.90 31.60 L299.00 25.98 L299.10 23.01 L299.20 33.34 L299.30 27.18 L299.40 32.76 L299.50 27.58 L299.60 27.67 L299.70 27.68 L299.80 16.85 L299.90 19.20 L300.00 15.72 L300.10 31.66 L300.20 32.70 L300.30 25.52 L300.40 17.36 L300.50 16.78 L300.60 22.52 L300.70 21.50 L300.80 18.03 L300.90 16.15 L301.00 25.86 L301.10 28.31 L301.20 15.70 L301.30 19.91 L301.40 19.74 L301.50 23.79 L301.60 24.78 L301.70 21.50 L301.80 28.99 L301.90 21.10 L302.00 19.64 L302.10 27.17 L302.20 28.37 L302.30 28.92 L302.40 17.47 L302.50 17.92 L302.60 22.18 L302.70 30.25 L302.80 24.68 L302.90 24.71 L303.00 19.98 L303.10 30.48 L303.20 17.70 L303.30 23.63 L303.40 25.43 L303.50 27.53 L303.60 27.56 L303.70 20.89 L303.80 19.09 L303.90 30.05 L304.00 23.43 L304.10 19.25 L304.20 17.04 L304.30 27.22 L304.40 27.89 L304.50 23.62 L304.60 20.79 L304.70 24.95 L304.80 29.77 L304.90 23.69 L305.00 26.81" fill="none" stroke="#0000ff" stroke-width="0.9" stroke-linejoin="round" /><path d="M31 149H104 M166 100.8H251" stroke="#ff0000" stroke-width="2.2" fill="none"/><path d="M104 107.5H166 M251 20.4H305" stroke="#d3155a" stroke-width="2.2" fill="none"/></g>
<g stroke="#707070" stroke-width="1.15" fill="none">
<rect x="31.0" y="11.4" width="276.4" height="204.9"/>
<path d="M31 216.30h2.8 M307.4 216.30h-2.8 M31 175.32h2.8 M307.4 175.32h-2.8 M31 134.34h2.8 M307.4 134.34h-2.8 M31 93.36h2.8 M307.4 93.36h-2.8 M31 52.38h2.8 M307.4 52.38h-2.8 M31 11.40h2.8 M307.4 11.40h-2.8 M31.00 216.3v-2.8 M31.00 11.4v2.8 M169.20 216.3v-2.8 M169.20 11.4v2.8 M307.40 216.3v-2.8 M307.40 11.4v2.8"/>
</g>
<g font-family="Liberation Sans, Arial, sans-serif" font-size="10.2" fill="#1a1a1a" stroke="#1a1a1a" stroke-width="0.25" text-anchor="end">
<text x="29.5" y="219.7">0</text>
<text x="29.5" y="178.7">0.2</text>
<text x="29.5" y="137.7">0.4</text>
<text x="29.5" y="96.7">0.6</text>
<text x="29.5" y="55.7">0.8</text>
<text x="29.5" y="14.7">1</text>
</g>
<g font-family="Liberation Sans, Arial, sans-serif" font-size="10.2" fill="#1a1a1a" stroke="#1a1a1a" stroke-width="0.25" text-anchor="middle">
<text x="29.8" y="227.5">-50</text>
<text x="169.3" y="227.5">0</text>
<text x="307.3" y="227.5">50</text>
</g>
<g font-family="Liberation Sans, Arial, sans-serif" font-weight="bold" font-size="8.7" fill="#111" stroke="#111" stroke-width="0.2" text-anchor="middle">
<text x="68.2" y="196">Open Loop</text>
<text x="135.5" y="190.3">Only Piston</text><text x="135.3" y="200.5">Phase-locking</text>
<text x="209.5" y="190.8">Only Tip-Tilt</text><text x="209.4" y="200.9">Control On</text>
<text x="280.7" y="190.3">Closed</text><text x="280.7" y="200.6">Loop</text>
</g>
<g font-family="Liberation Sans, Arial, sans-serif" font-weight="bold" font-size="12" fill="#e8191f" text-anchor="middle">
<text x="68.6" y="97.8">0.336</text><text x="134.4" y="92.2">0.531</text><text x="201.9" y="153.3">0.539</text><text x="281.6" y="51">0.947</text>
</g>
<text x="60.6" y="35.5" font-family="Liberation Serif, Times New Roman, serif" font-weight="bold" font-size="19.6" fill="#111" text-anchor="middle">(a)</text>
<text x="420.9" y="198" font-family="Liberation Serif, Times New Roman, serif" font-weight="bold" font-size="19.6" fill="#111" text-anchor="middle">(b)</text>
<g font-family="Liberation Sans, Arial, sans-serif" font-size="10.3" fill="#1a1a1a" stroke="#1a1a1a" stroke-width="0.25" text-anchor="middle">
<text x="169.2" y="238.8">Time / (s)</text>
<text x="525.5" y="239.8">Frequency / (Hz)</text>
<text transform="translate(10.2 114) rotate(-90)" font-size="10.55">Normalized Voltage detected by PD / (a.u.)</text>
<text transform="translate(361.3 112.5) rotate(-90)" font-size="10.4">Spectral Density for the Power / (rad<tspan font-size="7" dy="-4">2</tspan><tspan dy="4">/Hz)</tspan></text>
</g>
<g clip-path="url(#cr)"><path d="M398.00 83.00 L415.70 99.50 L430.40 100.70 L434.70 102.50 L437.00 100.00 L441.00 137.70 L446.10 98.10 L449.20 99.30 L452.60 118.40 L460.00 119.30 L462.00 116.40 L464.50 118.90 L467.30 113.80 L471.00 124.00 L480.00 129.40 L485.00 132.00 L486.17 135.90 L486.84 142.13 L487.50 125.73 L488.14 143.91 L488.76 135.33 L489.37 131.73 L489.97 132.02 L490.55 130.83 L491.12 135.72 L491.68 141.75 L492.22 140.74 L492.76 141.36 L493.28 128.81 L493.80 142.78 L494.30 147.43 L494.80 144.48 L495.28 151.67 L495.76 146.47 L496.23 133.98 L496.69 147.52 L497.14 144.01 L497.59 141.87 L498.03 156.26 L498.46 141.14 L498.88 140.49 L499.30 146.91 L499.71 151.36 L500.00 140.84 L500.00 149.46 L500.50 150.58 L500.50 141.19 L501.00 140.72 L501.00 153.62 L501.50 151.83 L501.50 142.57 L502.00 145.62 L502.00 154.10 L502.50 153.16 L502.50 144.17 L503.00 135.74 L503.00 149.53 L503.50 145.42 L503.50 143.04 L504.00 146.94 L504.00 153.65 L504.50 157.51 L504.50 142.34 L505.00 144.31 L505.00 152.03 L505.50 153.35 L505.50 139.06 L506.00 143.79 L506.00 153.21 L506.50 153.56 L506.50 144.92 L507.00 145.53 L507.00 155.65 L507.50 152.55 L507.50 144.02 L508.00 145.56 L508.00 151.86 L508.50 155.96 L508.50 155.16 L509.00 144.99 L509.00 155.57 L509.50 158.80 L509.50 148.39 L510.00 145.07 L510.00 156.61 L510.50 158.43 L510.50 148.67 L511.00 147.19 L511.00 154.34 L511.50 157.21 L511.50 147.77 L512.00 151.26 L512.00 158.72 L512.50 160.24 L512.50 148.96 L513.00 152.68 L513.00 158.61 L513.50 159.41 L513.50 155.12 L514.00 135.79 L514.00 161.92 L514.50 159.98 L514.50 150.33 L515.00 148.48 L515.00 161.15 L515.50 157.90 L515.50 148.85 L516.00 154.76 L516.00 161.59 L516.50 160.44 L516.50 155.07 L517.00 150.14 L517.00 168.06 L517.50 196.87 L517.50 149.92 L518.00 151.22 L518.00 162.48 L518.50 160.12 L518.50 152.27 L519.00 153.13 L519.00 173.94 L519.50 161.07 L519.50 149.91 L520.00 154.05 L520.00 165.70 L520.50 164.87 L520.50 152.70 L521.00 154.66 L521.00 165.27 L521.50 175.31 L521.50 156.51 L522.00 154.08 L522.00 161.80 L522.50 166.03 L522.50 153.92 L523.00 151.58 L523.00 176.78 L523.50 168.43 L523.50 153.66 L524.00 158.00 L524.00 159.00 L524.50 167.59 L524.50 156.76 L525.00 152.76 L525.00 164.05 L525.50 182.19 L525.50 156.22 L526.00 154.15 L526.00 166.26 L526.50 163.13 L526.50 154.92 L527.00 155.75 L527.00 162.88 L527.50 167.50 L527.50 157.43 L528.00 154.89 L528.00 157.34 L528.50 168.47 L528.50 156.67 L529.00 154.47 L529.00 170.16 L529.50 160.88 L529.50 154.76 L530.00 154.62 L530.00 170.16 L530.50 166.10 L530.50 156.68 L531.00 156.05 L531.00 167.94 L531.50 162.26 L531.50 146.01 L532.00 155.53 L532.00 158.77 L532.50 171.85 L532.50 159.68 L533.00 159.95 L533.00 172.72 L533.50 171.99 L533.50 156.84 L534.00 156.98 L534.00 170.23 L534.50 173.14 L534.50 158.15 L535.00 158.15 L535.00 173.24 L535.50 171.12 L535.50 161.86 L536.00 158.83 L536.00 185.44 L536.50 170.52 L536.50 164.30 L537.00 161.79 L537.00 173.83 L537.50 168.76 L537.50 158.02 L538.00 158.17 L538.00 174.32 L538.50 173.13 L538.50 158.30 L539.00 159.47 L539.00 172.70 L539.50 197.99 L539.50 164.15 L540.00 160.11 L540.00 175.97 L540.50 175.38 L540.50 160.56 L541.00 161.82 L541.00 173.53 L541.50 179.16 L541.50 161.60 L542.00 160.01 L542.00 172.79 L542.50 175.17 L542.50 162.21 L543.00 159.26 L543.00 164.60 L543.50 176.52 L543.50 160.26 L544.00 160.99 L544.00 175.65 L544.50 175.41 L544.50 161.49 L545.00 166.25 L545.00 174.91 L545.50 176.40 L545.50 160.08 L546.00 164.46 L546.00 176.88 L546.50 191.80 L546.50 162.29 L547.00 161.30 L547.00 176.05 L547.50 177.87 L547.50 161.53 L548.00 161.22 L548.00 173.86 L548.50 176.31 L548.50 161.93 L549.00 162.22 L549.00 178.57 L549.50 172.45 L549.50 168.13 L550.00 163.47 L550.00 182.03 L550.50 179.02 L550.50 162.78 L551.00 164.38 L551.00 177.88 L551.50 176.85 L551.50 160.71 L552.00 161.61 L552.00 182.21 L552.50 175.65 L552.50 165.75 L553.00 164.70 L553.00 179.53 L553.50 179.06 L553.50 164.39 L554.00 164.50 L554.00 182.82 L554.50 180.26 L554.50 164.75 L555.00 165.00 L555.00 209.82 L555.50 173.58 L555.50 163.54 L556.00 172.43 L556.00 178.49 L556.50 180.49 L556.50 169.33 L557.00 165.15 L557.00 179.16 L557.50 179.73 L557.50 165.74 L558.00 166.74 L558.00 209.76 L558.50 216.30 L558.50 166.24 L559.00 166.39 L559.00 181.65 L559.50 201.79 L559.50 166.13 L560.00 166.52 L560.00 180.96 L560.50 181.53 L560.50 165.20 L561.00 161.59 L561.00 170.31 L561.50 182.33 L561.50 170.79 L562.00 167.03 L562.00 210.35 L562.50 188.23 L562.50 171.95 L563.00 175.75 L563.00 182.25 L563.50 181.80 L563.50 166.66 L564.00 166.65 L564.00 172.91 L564.50 180.06 L564.50 167.70 L565.00 167.44 L565.00 182.61 L565.50 176.77 L565.50 167.08 L566.00 175.17 L566.00 188.54 L566.50 183.85 L566.50 169.63 L567.00 169.42 L567.00 179.08 L567.50 182.32 L567.50 168.75 L568.00 172.55 L568.00 184.20 L568.50 187.41 L568.50 171.04 L569.00 168.76 L569.00 181.89 L569.50 172.94 L569.50 168.50 L570.00 143.65 L570.00 183.78 L570.50 189.24 L570.50 169.48 L571.00 174.16 L571.00 187.67 L571.50 184.01 L571.50 169.86 L572.00 170.25 L572.00 185.15 L572.50 185.35 L572.50 171.55 L573.00 170.30 L573.00 183.39 L573.50 185.77 L573.50 170.54 L574.00 175.96 L574.00 181.08 L574.50 185.78 L574.50 170.15 L575.00 170.86 L575.00 187.89 L575.50 184.62 L575.50 173.95 L576.00 171.29 L576.00 172.09 L576.50 205.45 L576.50 172.99 L577.00 175.62 L577.00 185.58 L577.50 184.87 L577.50 171.25 L578.00 173.38 L578.00 213.39 L578.50 187.04 L578.50 174.77 L579.00 171.86 L579.00 186.07 L579.50 185.31 L579.50 173.61 L580.00 174.14 L580.00 187.39 L580.50 187.94 L580.50 172.56 L581.00 174.78 L581.00 183.16 L581.50 187.04 L581.50 173.15 L582.00 174.39 L582.00 193.62 L582.50 193.06 L582.50 176.31 L583.00 179.34 L583.00 189.77 L583.50 189.17 L583.50 175.29 L584.00 174.92 L584.00 188.08 L584.50 196.28 L584.50 175.75 L585.00 176.55 L585.00 188.72 L585.50 188.53 L585.50 179.67 L586.00 176.27 L586.00 185.49 L586.50 189.46 L586.50 177.53 L587.00 178.01 L587.00 186.98 L587.50 189.05 L587.50 188.05 L588.00 178.09 L588.00 216.30 L588.50 186.04 L588.50 177.88 L589.00 178.34 L589.00 192.23 L589.50 189.81 L589.50 181.30 L590.00 179.81 L590.00 196.77 L590.50 205.83 L590.50 183.39 L591.00 191.01 L591.00 191.81 L591.50 193.21 L591.50 181.65 L592.00 181.61 L592.00 190.48 L592.50 190.29 L592.50 183.63 L593.00 183.92 L593.00 190.46 L593.50 188.77 L593.50 179.59 L594.00 185.48 L594.00 187.63 L594.50 205.31 L594.50 181.62 L595.00 183.91 L595.00 187.64 L595.50 201.79 L595.50 182.26 L596.00 185.91 L596.00 188.35 L596.50 186.59 L596.50 183.03 L597.00 183.96 L597.00 187.35 L597.50 193.65 L597.50 186.49 L598.00 188.34 L598.00 192.75 L598.50 202.33 L598.50 186.40 L599.00 185.07 L599.00 193.24 L599.50 200.39 L599.50 187.41 L600.00 189.34 L600.00 192.21 L600.50 194.36 L600.50 185.63 L601.00 187.37 L601.00 194.78 L601.50 216.30 L601.50 186.51 L602.00 187.91 L602.00 195.26 L602.50 195.61 L602.50 160.21 L603.00 188.31 L603.00 195.97 L603.50 196.27 L603.50 189.47 L604.00 185.21 L604.00 186.01 L604.50 191.98 L604.50 189.24 L605.00 193.29 L605.00 194.09 L605.50 196.72 L605.50 189.54 L606.00 194.53 L606.00 195.33 L606.50 210.42 L606.50 191.33 L607.00 191.70 L607.00 198.46 L607.50 202.45 L607.50 190.80 L608.00 211.57 L608.00 212.37 L608.50 212.32 L608.50 190.00 L609.00 192.42 L609.00 216.30 L609.50 195.28 L609.50 192.70 L610.00 196.84 L610.00 207.62 L610.50 199.73 L610.50 196.24 L611.00 197.60 L611.00 199.77 L611.50 197.34 L611.50 196.32 L612.00 196.34 L612.00 200.76 L612.50 197.47 L612.50 196.67 L613.00 199.00 L613.00 209.67 L613.50 201.41 L613.50 200.61 L614.00 187.80 L614.00 203.25 L614.50 204.20 L614.50 196.68 L615.00 203.74 L615.00 216.30 L615.50 216.19 L615.50 198.16 L616.00 197.60 L616.00 198.40 L616.50 199.00 L616.50 198.20 L617.00 205.52 L617.00 206.32 L617.50 201.64 L617.50 198.40 L618.00 205.48 L618.00 206.28 L618.50 203.83 L618.50 202.54 L619.00 200.54 L619.00 204.18 L619.50 202.69 L619.50 201.89 L620.00 200.27 L620.00 201.87" fill="none" stroke="#00ff00" stroke-width="1.2" stroke-linejoin="round" /><path d="M388.40 28.10 L408.60 33.60 L418.40 32.80 L426.40 44.00 L432.50 39.50 L437.20 78.30 L444.60 54.00 L448.30 62.60 L450.70 56.50 L453.40 66.30 L457.80 48.30 L459.90 70.90 L463.60 56.50 L467.00 71.00 L467.58 80.14 L468.47 78.20 L469.34 76.68 L470.19 72.77 L471.00 89.56 L471.79 65.61 L472.56 84.94 L473.31 83.15 L474.03 85.06 L474.74 85.37 L475.43 81.98 L476.10 76.45 L476.75 78.35 L477.39 91.35 L478.02 77.01 L478.62 79.77 L479.22 91.02 L479.80 78.29 L480.37 80.08 L480.93 84.35 L481.48 80.83 L482.01 80.72 L482.54 79.20 L483.05 84.46 L483.56 74.72 L484.05 89.14 L484.54 93.89 L485.02 79.64 L485.49 84.97 L485.95 105.29 L486.40 82.98 L486.84 74.76 L487.28 87.09 L487.71 99.28 L488.14 112.95 L488.55 78.62 L488.97 91.37 L489.37 87.65 L489.77 83.74 L490.16 77.97 L490.55 95.46 L490.93 82.47 L491.31 103.30 L491.68 89.47 L492.04 102.18 L492.40 97.51 L492.76 81.38 L493.11 87.82 L493.46 102.32 L493.80 98.76 L494.14 87.46 L494.47 135.75 L494.80 79.25 L495.12 82.08 L495.44 78.98 L495.76 98.11 L496.08 87.31 L496.39 97.91 L496.69 92.37 L496.99 95.73 L497.29 117.49 L497.59 110.76 L497.88 91.48 L498.17 107.72 L498.46 100.79 L498.74 99.52 L499.02 108.68 L499.30 91.96 L499.58 89.05 L499.85 85.37 L500.12 80.80 L500.38 84.38 L500.65 97.09 L500.91 87.62 L501.17 99.55 L501.42 98.35 L501.68 90.09 L501.93 91.83 L502.18 91.47 L502.42 93.68 L502.67 98.08 L502.91 82.74 L503.15 93.42 L503.39 99.44 L503.62 103.22 L503.85 88.14 L504.09 130.42 L504.32 99.89 L504.54 107.13 L504.77 90.95 L504.99 101.64 L505.00 82.41 L505.00 123.82 L505.50 121.40 L505.50 81.06 L506.00 83.37 L506.00 120.69 L506.50 117.03 L506.50 88.81 L507.00 88.19 L507.00 120.40 L507.50 124.12 L507.50 85.60 L508.00 90.23 L508.00 118.88 L508.50 124.55 L508.50 77.55 L509.00 88.24 L509.00 126.34 L509.50 123.13 L509.50 97.67 L510.00 92.56 L510.00 123.17 L510.50 125.25 L510.50 87.84 L511.00 93.51 L511.00 122.34 L511.50 122.87 L511.50 83.68 L512.00 90.44 L512.00 128.02 L512.50 126.95 L512.50 95.61 L513.00 84.44 L513.00 124.21 L513.50 126.42 L513.50 88.64 L514.00 85.11 L514.00 128.70 L514.50 129.43 L514.50 86.09 L515.00 98.43 L515.00 123.48 L515.50 126.83 L515.50 89.20 L516.00 85.58 L516.00 128.31 L516.50 127.16 L516.50 86.50 L517.00 92.77 L517.00 126.05 L517.50 123.57 L517.50 90.76 L518.00 88.00 L518.00 126.21 L518.50 130.10 L518.50 93.69 L519.00 93.48 L519.00 131.26 L519.50 131.41 L519.50 94.06 L520.00 94.36 L520.00 118.38 L520.50 131.95 L520.50 92.16 L521.00 103.96 L521.00 132.76 L521.50 130.78 L521.50 93.08 L522.00 92.73 L522.00 133.53 L522.50 133.12 L522.50 90.75 L523.00 90.99 L523.00 134.14 L523.50 132.95 L523.50 90.59 L524.00 91.04 L524.00 134.30 L524.50 132.65 L524.50 93.31 L525.00 93.14 L525.00 132.10 L525.50 132.25 L525.50 89.88 L526.00 93.56 L526.00 127.01 L526.50 136.23 L526.50 105.63 L527.00 96.28 L527.00 135.03 L527.50 135.10 L527.50 96.81 L528.00 105.39 L528.00 135.44 L528.50 136.48 L528.50 92.73 L529.00 91.08 L529.00 136.55 L529.50 134.52 L529.50 91.38 L530.00 92.58 L530.00 135.74 L530.50 136.24 L530.50 93.38 L531.00 111.00 L531.00 136.54 L531.50 136.70 L531.50 91.66 L532.00 105.02 L532.00 132.14 L532.50 133.28 L532.50 93.02 L533.00 95.37 L533.00 139.42 L533.50 138.39 L533.50 99.46 L534.00 98.69 L534.00 139.89 L534.50 132.96 L534.50 102.73 L535.00 95.12 L535.00 139.91 L535.50 138.44 L535.50 103.97 L536.00 104.77 L536.00 140.08 L536.50 141.35 L536.50 103.73 L537.00 93.87 L537.00 134.81 L537.50 137.58 L537.50 100.59 L538.00 93.74 L538.00 138.83 L538.50 138.83 L538.50 97.31 L539.00 94.91 L539.00 137.16 L539.50 140.91 L539.50 103.13 L540.00 96.93 L540.00 136.34 L540.50 148.63 L540.50 94.29 L541.00 95.18 L541.00 142.67 L541.50 143.16 L541.50 97.34 L542.00 93.29 L542.00 138.74 L542.50 138.42 L542.50 120.97 L543.00 108.42 L543.00 137.87 L543.50 143.35 L543.50 102.42 L544.00 101.86 L544.00 143.16 L544.50 141.95 L544.50 99.75 L545.00 98.87 L545.00 142.35 L545.50 142.84 L545.50 99.01 L546.00 95.67 L546.00 129.21 L546.50 134.52 L546.50 98.57 L547.00 108.74 L547.00 143.24 L547.50 144.37 L547.50 118.24 L548.00 104.87 L548.00 142.21 L548.50 143.27 L548.50 98.78 L549.00 96.77 L549.00 148.47 L549.50 142.67 L549.50 103.16 L550.00 97.86 L550.00 137.34 L550.50 156.42 L550.50 110.73 L551.00 101.38 L551.00 149.01 L551.50 141.67 L551.50 105.93 L552.00 110.10 L552.00 143.65 L552.50 143.75 L552.50 101.67 L553.00 99.59 L553.00 145.34 L553.50 137.03 L553.50 104.02 L554.00 97.55 L554.00 144.16 L554.50 145.91 L554.50 103.00 L555.00 124.85 L555.00 145.89 L555.50 141.35 L555.50 103.45 L556.00 100.49 L556.00 141.11 L556.50 145.18 L556.50 100.38 L557.00 91.20 L557.00 147.57 L557.50 144.38 L557.50 101.67 L558.00 102.10 L558.00 147.88 L558.50 143.59 L558.50 105.23 L559.00 103.68 L559.00 148.23 L559.50 146.49 L559.50 99.05 L560.00 101.56 L560.00 151.41 L560.50 147.95 L560.50 98.81 L561.00 100.14 L561.00 139.23 L561.50 145.70 L561.50 100.16 L562.00 106.09 L562.00 147.73 L562.50 147.95 L562.50 103.70 L563.00 100.95 L563.00 148.48 L563.50 148.61 L563.50 105.17 L564.00 107.49 L564.00 149.50 L564.50 143.00 L564.50 100.91 L565.00 102.11 L565.00 148.95 L565.50 177.41 L565.50 111.39 L566.00 105.77 L566.00 150.26 L566.50 157.92 L566.50 115.94 L567.00 103.31 L567.00 150.42 L567.50 145.05 L567.50 110.49 L568.00 106.89 L568.00 150.45 L568.50 150.69 L568.50 113.18 L569.00 102.68 L569.00 150.85 L569.50 146.71 L569.50 132.97 L570.00 111.35 L570.00 148.35 L570.50 152.03 L570.50 103.38 L571.00 103.84 L571.00 146.71 L571.50 144.00 L571.50 109.70 L572.00 110.71 L572.00 152.75 L572.50 152.40 L572.50 106.78 L573.00 104.60 L573.00 149.20 L573.50 150.48 L573.50 109.17 L574.00 115.29 L574.00 149.80 L574.50 150.08 L574.50 110.83 L575.00 110.40 L575.00 152.61 L575.50 153.65 L575.50 106.76 L576.00 114.44 L576.00 144.60 L576.50 153.20 L576.50 106.79 L577.00 110.85 L577.00 151.49 L577.50 153.16 L577.50 106.19 L578.00 107.49 L578.00 148.23 L578.50 154.68 L578.50 106.62 L579.00 108.37 L579.00 147.04 L579.50 148.81 L579.50 107.22 L580.00 108.38 L580.00 154.79 L580.50 154.75 L580.50 130.67 L581.00 133.35 L581.00 155.98 L581.50 156.50 L581.50 111.21 L582.00 114.56 L582.00 156.74 L582.50 152.97 L582.50 126.74 L583.00 116.62 L583.00 153.30 L583.50 155.85 L583.50 116.65 L584.00 111.37 L584.00 156.30 L584.50 155.86 L584.50 116.49 L585.00 121.90 L585.00 156.90 L585.50 157.78 L585.50 121.83 L586.00 123.35 L586.00 157.19 L586.50 158.53 L586.50 117.91 L587.00 124.20 L587.00 157.82 L587.50 156.43 L587.50 119.79 L588.00 119.20 L588.00 157.67 L588.50 156.48 L588.50 121.51 L589.00 127.27 L589.00 159.46 L589.50 156.21 L589.50 120.99 L590.00 122.19 L590.00 159.38 L590.50 159.57 L590.50 127.73 L591.00 122.05 L591.00 158.50 L591.50 158.43 L591.50 126.23 L592.00 121.84 L592.00 154.21 L592.50 156.19 L592.50 121.93 L593.00 123.10 L593.00 160.62 L593.50 160.94 L593.50 128.48 L594.00 123.39 L594.00 157.14 L594.50 161.84 L594.50 128.04 L595.00 130.93 L595.00 161.31 L595.50 159.48 L595.50 129.28 L596.00 128.99 L596.00 160.11 L596.50 162.80 L596.50 126.48 L597.00 126.25 L597.00 162.56 L597.50 165.17 L597.50 133.58 L598.00 128.58 L598.00 161.78 L598.50 163.64 L598.50 132.55 L599.00 139.60 L599.00 158.74 L599.50 162.47 L599.50 126.70 L600.00 128.64 L600.00 162.38 L600.50 162.04 L600.50 127.49 L601.00 127.86 L601.00 165.41 L601.50 166.92 L601.50 137.07 L602.00 131.36 L602.00 155.01 L602.50 164.97 L602.50 134.04 L603.00 132.31 L603.00 163.95 L603.50 165.20 L603.50 130.34 L604.00 146.50 L604.00 157.33 L604.50 163.46 L604.50 136.74 L605.00 134.09 L605.00 165.64 L605.50 165.48 L605.50 136.78 L606.00 134.07 L606.00 167.32 L606.50 167.39 L606.50 142.26 L607.00 137.81 L607.00 163.35 L607.50 168.02 L607.50 136.42 L608.00 140.91 L608.00 166.18 L608.50 168.44 L608.50 141.43 L609.00 145.54 L609.00 167.30 L609.50 176.64 L609.50 137.05 L610.00 136.86 L610.00 162.38 L610.50 163.10 L610.50 142.97 L611.00 139.56 L611.00 167.98 L611.50 185.27 L611.50 140.30 L612.00 151.20 L612.00 167.16 L612.50 169.88 L612.50 142.27 L613.00 139.10 L613.00 169.32 L613.50 162.74 L613.50 147.10 L614.00 142.79 L614.00 177.07 L614.50 172.15 L614.50 153.42 L615.00 145.19 L615.00 170.05 L615.50 171.37 L615.50 147.57 L616.00 156.10 L616.00 168.53 L616.50 171.81 L616.50 142.33 L617.00 143.08 L617.00 166.76 L617.50 169.45 L617.50 151.62 L618.00 147.37 L618.00 172.58 L618.50 180.62 L618.50 145.57 L619.00 144.55 L619.00 173.06 L619.50 174.12 L619.50 147.20 L620.00 147.77 L620.00 174.95 L620.50 170.82 L620.50 146.27 L621.00 150.60 L621.00 171.25 L621.50 174.31 L621.50 155.02 L622.00 149.70 L622.00 172.69 L622.50 173.45 L622.50 155.40 L623.00 171.04 L623.00 171.84 L623.50 176.91 L623.50 162.60 L624.00 156.75 L624.00 174.46 L624.50 184.40 L624.50 150.34 L625.00 151.33 L625.00 168.65 L625.50 165.67 L625.50 158.33 L626.00 168.93 L626.00 174.44 L626.50 174.47 L626.50 159.50 L627.00 159.25 L627.00 167.07 L627.50 173.91 L627.50 147.27 L628.00 166.54 L628.00 172.10 L628.50 172.88 L628.50 155.97 L629.00 144.71 L629.00 171.68 L629.50 174.86 L629.50 157.72 L630.00 156.56 L630.00 174.99 L630.50 175.04 L630.50 168.76 L631.00 160.84 L631.00 173.25 L631.50 174.94 L631.50 161.89 L632.00 155.30 L632.00 175.23 L632.50 176.08 L632.50 164.57 L633.00 156.93 L633.00 174.15 L633.50 176.51 L633.50 154.72 L634.00 157.24 L634.00 176.52 L634.50 174.97 L634.50 154.66 L635.00 156.80 L635.00 174.46 L635.50 176.67 L635.50 166.03 L636.00 159.87 L636.00 175.97 L636.50 168.94 L636.50 155.92 L637.00 161.82 L637.00 168.41 L637.50 173.60 L637.50 158.66 L638.00 166.84 L638.00 172.81 L638.50 177.04 L638.50 165.73 L639.00 158.49 L639.00 168.93 L639.50 172.91 L639.50 158.12 L640.00 165.39 L640.00 176.10 L640.50 163.71 L640.50 160.77 L641.00 164.43 L641.00 173.45 L641.50 175.04 L641.50 162.69 L642.00 175.51 L642.00 176.31 L642.50 175.46 L642.50 158.91 L643.00 161.26 L643.00 174.66 L643.50 172.38 L643.50 171.58 L644.00 161.35 L644.00 177.19 L644.50 177.09 L644.50 158.64 L645.00 159.71 L645.00 176.49 L645.50 175.16 L645.50 174.36 L646.00 162.01 L646.00 171.87 L646.50 177.70 L646.50 160.71 L647.00 158.35 L647.00 175.74 L647.50 178.09 L647.50 157.75 L648.00 162.14 L648.00 190.53 L648.50 177.49 L648.50 176.41 L649.00 158.00 L649.00 175.81 L649.50 177.34 L649.50 159.14 L650.00 155.08 L650.00 175.93 L650.50 172.30 L650.50 167.79 L651.00 158.71 L651.00 176.74 L651.50 177.61 L651.50 153.03 L652.00 156.87 L652.00 177.72 L652.50 177.07 L652.50 152.85 L653.00 157.18 L653.00 177.21 L653.50 177.89 L653.50 150.90 L654.00 153.68 L654.00 174.24 L654.50 178.53 L654.50 153.12 L655.00 148.89 L655.00 186.81 L655.50 172.10 L655.50 150.24 L656.00 149.35 L656.00 178.69 L656.50 175.81 L656.50 157.32 L657.00 172.96 L657.00 177.77 L657.50 176.42 L657.50 144.97 L658.00 151.15 L658.00 200.79 L658.50 173.57 L658.50 147.65 L659.00 142.06 L659.00 174.81 L659.50 170.29 L659.50 141.15 L660.00 143.70 L660.00 197.00 L660.50 178.71 L660.50 139.55 L661.00 146.89 L661.00 172.65 L661.50 178.15 L661.50 149.44 L662.00 137.48 L662.00 179.47 L662.50 185.21 L662.50 136.09 L663.00 139.52 L663.00 175.79 L663.50 178.22 L663.50 136.29 L664.00 133.69 L664.00 179.01" fill="none" stroke="#0000ff" stroke-width="1.2" stroke-linejoin="round" /><path d="M554.5 77.7V100" stroke="#0000ff" stroke-width="1.2"/><path d="M578.4 76V105" stroke="#0000ff" stroke-width="1.2"/><path d="M583.8 84.7V105" stroke="#0000ff" stroke-width="1.2"/><path d="M589.8 93.2V115" stroke="#0000ff" stroke-width="1.2"/><path d="M651 140V160" stroke="#0000ff" stroke-width="1.2"/><path d="M394.00 43.40 L408.00 41.00 L422.70 39.70 L426.40 43.40 L430.70 51.40 L434.20 54.70 L442.10 62.00 L447.00 61.70 L453.20 73.40 L455.50 80.50 L457.30 77.40 L461.00 87.20 L462.90 86.60 L467.10 105.00 L470.20 86.00 L473.30 93.40 L476.30 91.00 L480.00 100.00 L483.70 100.00 L489.20 101.30" fill="none" stroke="#ff0000" stroke-width="1.0" stroke-linejoin="round" /><path d="M489.20 101.30 L490.16 102.95 L491.68 103.21 L493.11 103.24 L494.47 102.37 L495.76 105.10 L496.99 106.71 L498.17 107.37 L499.30 106.07 L500.38 109.88 L501.42 110.43 L502.42 108.82 L503.39 109.73 L504.32 111.78 L505.21 111.18 L506.08 112.47 L506.92 114.29 L507.74 114.95 L508.53 113.73 L509.30 114.47 L510.05 115.01 L510.77 116.22 L511.48 116.92 L512.17 117.01 L512.84 118.84 L513.49 118.62 L514.13 119.11 L514.76 117.61 L515.36 118.49 L515.96 119.66 L516.54 121.20 L517.11 120.30 L517.67 123.27 L518.22 122.17 L518.75 122.67 L519.28 122.90 L519.79 123.65 L520.30 124.47 L520.79 123.28 L521.28 125.83 L521.76 123.73 L522.22 125.41 L522.69 124.99 L523.14 125.36 L523.58 126.54 L524.02 126.37 L524.45 128.12 L524.88 126.25 L525.29 127.60 L525.71 127.96 L526.11 129.80 L526.51 129.57 L526.90 128.93 L527.29 130.19 L527.67 129.62 L528.05 128.24 L528.42 129.63 L528.78 130.79 L529.14 129.29 L529.50 131.60 L529.85 130.68 L530.20 129.94 L530.54 131.28 L530.87 129.47 L531.21 130.60 L531.54 130.47 L531.86 132.26 L532.18 130.95 L532.50 130.62 L532.81 132.75 L533.12 132.17 L533.43 132.14 L533.73 132.48 L534.03 134.38 L534.33 133.70 L534.62 132.96 L534.91 136.83 L535.20 134.63 L535.48 136.29 L535.76 135.58 L536.04 136.09 L536.31 133.93 L536.59 134.42 L536.86 135.86 L537.12 135.27 L537.39 135.61 L537.65 136.84 L537.91 133.96 L538.16 135.67 L538.41 137.81 L538.67 135.85 L538.92 136.55 L539.16 137.07 L539.41 137.16 L539.65 137.31 L539.89 136.13 L540.13 137.64 L540.36 136.79 L540.59 139.27 L540.83 137.06 L541.06 138.15 L541.28 137.81 L541.51 139.38 L541.73 138.44 L541.95 139.22 L542.17 137.98 L542.39 138.32 L542.61 137.84 L542.82 138.82 L543.04 138.84 L543.25 138.04 L543.46 138.04 L543.66 139.72 L543.87 139.49 L544.08 139.03 L544.28 138.93 L544.48 138.85 L544.68 140.30 L544.88 139.73 L545.08 139.75 L545.27 139.95 L545.47 140.18 L545.66 140.48 L545.85 141.04 L546.04 139.12 L546.23 140.90 L546.42 139.97 L546.60 141.01 L546.79 142.93 L546.97 139.66 L547.15 140.34 L547.33 141.31 L547.51 140.00 L547.69 144.79 L547.87 141.52 L548.04 144.16 L548.22 142.36 L548.39 143.90 L548.57 143.59 L548.74 142.44 L548.91 143.46 L549.08 142.26 L549.24 142.57 L549.41 144.90 L549.58 142.35 L549.74 142.40 L549.91 146.44 L550.07 143.21 L550.23 144.09 L550.39 145.71 L550.55 143.40 L550.71 143.41 L550.87 146.24 L551.03 144.23 L551.18 144.66 L551.34 144.08 L551.49 145.16 L551.65 142.84 L551.80 144.95 L551.95 146.00 L552.10 146.04 L552.25 144.45 L552.40 145.87 L552.55 147.69 L552.70 145.47 L552.85 146.20 L552.99 145.11 L553.14 143.61 L553.28 146.56 L553.43 144.69 L553.57 145.08 L553.71 146.04 L553.85 146.04 L553.99 146.01 L554.13 147.54 L554.27 146.49 L554.41 146.47 L554.55 145.25 L554.68 147.66 L554.82 145.19 L554.96 144.67 L555.09 145.91 L555.23 147.76 L555.36 147.44 L555.49 148.60 L555.62 147.67 L555.76 147.72 L555.89 147.75 L556.02 146.70 L556.15 146.99 L556.28 147.08 L556.40 147.91 L556.53 146.68 L556.66 147.36 L556.78 148.27 L556.91 147.93 L557.04 147.77 L557.16 147.94 L557.28 146.80 L557.41 146.73 L557.53 147.47 L557.65 149.62 L557.78 149.50 L557.90 148.97 L558.02 149.46 L558.14 149.74 L558.26 146.75 L558.38 148.30 L558.50 150.03 L558.61 151.21 L558.73 149.40 L558.85 151.32 L558.96 150.72 L559.08 149.58 L559.20 148.23 L559.31 148.35 L559.43 149.56 L559.54 149.93 L559.65 149.69 L559.77 150.58 L559.88 150.61 L559.99 150.05" fill="none" stroke="#ff0000" stroke-width="1.3" stroke-linejoin="round" /><path d="M659 152V158" stroke="#ff0000" stroke-width="1.2"/><path d="M402.20 96.40 L421.20 90.00 L435.30 104.40 L437.90 110.10 L444.30 111.00 L449.80 99.30 L457.70 100.50 L460.50 118.00 L462.60 121.30 L464.50 119.50 L466.40 118.40 L471.00 129.40 L474.60 116.50 L478.30 133.00 L482.00 139.50 L482.54 138.55 L483.31 131.45 L484.05 143.64 L484.78 145.64 L485.49 145.06 L486.17 144.90 L486.84 140.13 L487.50 139.58 L488.14 146.54 L488.76 151.44 L489.37 155.05 L489.97 144.82 L490.55 147.66 L491.12 143.95 L491.68 138.33 L492.22 142.59 L492.76 141.40 L493.28 136.95 L493.80 136.32 L494.30 144.32 L494.80 139.74 L495.28 145.77 L495.76 141.10 L496.23 147.70 L496.69 148.22 L497.14 146.39 L497.59 140.24 L498.03 138.01 L498.46 153.95 L498.88 148.49 L499.30 153.92 L499.71 144.93 L500.00 139.55 L500.00 151.99 L500.50 148.08 L500.50 137.41 L501.00 138.17 L501.00 150.73 L501.50 147.42 L501.50 138.01 L502.00 143.14 L502.00 152.31 L502.50 146.68 L502.50 138.84 L503.00 137.33 L503.00 150.34 L503.50 153.79 L503.50 137.67 L504.00 138.86 L504.00 139.66 L504.50 158.02 L504.50 157.22 L505.00 138.76 L505.00 154.69 L505.50 141.34 L505.50 139.31 L506.00 140.39 L506.00 153.52 L506.50 153.80 L506.50 150.27 L507.00 137.92 L507.00 152.20 L507.50 154.90 L507.50 141.42 L508.00 146.36 L508.00 149.01 L508.50 156.52 L508.50 147.60 L509.00 140.09 L509.00 152.43 L509.50 154.22 L509.50 143.19 L510.00 138.40 L510.00 154.83 L510.50 157.42 L510.50 141.64 L511.00 144.96 L511.00 153.00 L511.50 157.31 L511.50 140.97 L512.00 138.66 L512.00 153.33 L512.50 154.15 L512.50 151.34 L513.00 161.55 L513.00 162.35 L513.50 153.07 L513.50 138.45 L514.00 143.21 L514.00 153.84 L514.50 142.43 L514.50 141.63 L515.00 150.30 L515.00 164.18 L515.50 171.51 L515.50 138.81 L516.00 141.64 L516.00 158.51 L516.50 155.07 L516.50 140.55 L517.00 138.92 L517.00 160.90 L517.50 158.69 L517.50 142.03 L518.00 141.83 L518.00 145.36 L518.50 166.21 L518.50 144.04 L519.00 138.97 L519.00 166.01 L519.50 162.10 L519.50 142.81 L520.00 144.22 L520.00 157.02 L520.50 161.17 L520.50 139.40 L521.00 153.90 L521.00 154.70 L521.50 158.39 L521.50 154.70 L522.00 151.30 L522.00 161.69 L522.50 161.64 L522.50 142.09 L523.00 139.59 L523.00 163.72 L523.50 163.17 L523.50 138.35 L524.00 144.82 L524.00 157.48 L524.50 163.93 L524.50 156.08 L525.00 138.16 L525.00 162.54 L525.50 153.79 L525.50 139.73 L526.00 143.18 L526.00 164.41 L526.50 158.51 L526.50 140.35 L527.00 138.96 L527.00 161.60 L527.50 183.80 L527.50 139.94 L528.00 155.81 L528.00 179.41 L528.50 178.62 L528.50 140.17 L529.00 147.40 L529.00 158.37 L529.50 173.36 L529.50 137.47 L530.00 140.61 L530.00 190.79 L530.50 163.05 L530.50 150.52 L531.00 156.50 L531.00 158.86 L531.50 160.00 L531.50 140.58 L532.00 147.03 L532.00 167.70 L532.50 178.64 L532.50 177.84 L533.00 145.96 L533.00 160.07 L533.50 168.89 L533.50 154.88 L534.00 145.57 L534.00 166.45 L534.50 168.59 L534.50 142.04 L535.00 145.54 L535.00 168.94 L535.50 168.23 L535.50 142.78 L536.00 159.58 L536.00 168.69 L536.50 167.89 L536.50 125.64 L537.00 156.18 L537.00 166.38 L537.50 164.46 L537.50 136.05 L538.00 155.13 L538.00 160.56 L538.50 163.24 L538.50 151.28 L539.00 155.30 L539.00 165.24 L539.50 165.91 L539.50 138.86 L540.00 133.30 L540.00 179.51 L540.50 192.91 L540.50 147.85 L541.00 132.42 L541.00 157.47 L541.50 187.28 L541.50 140.80 L542.00 127.98 L542.00 169.70 L542.50 171.79 L542.50 170.99 L543.00 142.61 L543.00 171.07 L543.50 168.85 L543.50 131.88 L544.00 136.73 L544.00 162.57 L544.50 169.07 L544.50 133.98 L545.00 132.83 L545.00 171.97 L545.50 169.19 L545.50 135.16 L546.00 136.73 L546.00 163.79 L546.50 173.53 L546.50 131.23 L547.00 163.57 L547.00 170.00 L547.50 174.54 L547.50 154.48 L548.00 154.23 L548.00 171.48 L548.50 174.56 L548.50 132.69 L549.00 129.32 L549.00 172.84 L549.50 154.10 L549.50 139.07 L550.00 195.27 L550.00 196.07 L550.50 175.55 L550.50 130.19 L551.00 130.88 L551.00 174.98 L551.50 175.10 L551.50 126.04 L552.00 127.70 L552.00 168.12 L552.50 175.77 L552.50 146.57 L553.00 123.20 L553.00 175.32 L553.50 176.22 L553.50 139.99 L554.00 123.19 L554.00 177.37 L554.50 171.20 L554.50 127.78 L555.00 137.51 L555.00 153.86 L555.50 176.75 L555.50 150.77 L556.00 120.36 L556.00 176.39 L556.50 174.71 L556.50 125.65 L557.00 122.90 L557.00 194.60 L557.50 173.88 L557.50 124.09 L558.00 122.86 L558.00 173.04 L558.50 168.19 L558.50 143.27 L559.00 153.49 L559.00 178.20 L559.50 178.58 L559.50 115.34 L560.00 125.52 L560.00 175.56 L560.50 169.49 L560.50 118.93 L561.00 143.39 L561.00 175.75 L561.50 177.78 L561.50 111.20 L562.00 118.20 L562.00 178.79 L562.50 179.75 L562.50 110.61 L563.00 116.04 L563.00 181.64 L563.50 178.23 L563.50 117.01 L564.00 115.80 L564.00 176.23 L564.50 178.30 L564.50 108.69 L565.00 113.38 L565.00 162.31 L565.50 180.67 L565.50 120.73 L566.00 115.41 L566.00 176.87 L566.50 186.05 L566.50 126.24 L567.00 135.01 L567.00 178.22 L567.50 173.06 L567.50 110.97 L568.00 121.69 L568.00 182.94 L568.50 193.22 L568.50 112.58 L569.00 118.31 L569.00 183.83 L569.50 184.11 L569.50 123.83 L570.00 113.97 L570.00 181.79 L570.50 169.87 L570.50 124.85 L571.00 109.49 L571.00 185.98 L571.50 185.43 L571.50 140.39 L572.00 118.77 L572.00 179.21 L572.50 185.83 L572.50 118.53 L573.00 109.26 L573.00 184.95 L573.50 183.43 L573.50 108.53 L574.00 117.74 L574.00 182.94 L574.50 185.15 L574.50 106.60 L575.00 130.17 L575.00 186.39 L575.50 186.13 L575.50 153.86 L576.00 131.85 L576.00 187.14 L576.50 194.82 L576.50 109.13 L577.00 117.14 L577.00 188.69 L577.50 189.88 L577.50 111.78 L578.00 121.41 L578.00 189.91 L578.50 195.13 L578.50 117.75 L579.00 134.93 L579.00 191.95 L579.50 182.82 L579.50 112.55 L580.00 104.13 L580.00 187.32 L580.50 184.29 L580.50 121.38 L581.00 112.48 L581.00 192.07 L581.50 186.40 L581.50 127.11 L582.00 129.81 L582.00 191.88 L582.50 186.30 L582.50 144.84 L583.00 168.38 L583.00 187.62 L583.50 190.10 L583.50 112.77 L584.00 130.49 L584.00 193.96 L584.50 194.88 L584.50 139.02 L585.00 113.84 L585.00 199.28 L585.50 212.62 L585.50 109.34 L586.00 113.71 L586.00 203.85 L586.50 206.13 L586.50 117.75 L587.00 125.55 L587.00 207.18 L587.50 209.30 L587.50 104.29 L588.00 115.35 L588.00 210.22 L588.50 213.46 L588.50 117.49 L589.00 123.80 L589.00 216.30 L589.50 206.99 L589.50 123.59 L590.00 124.34 L590.00 214.90 L590.50 216.30 L590.50 135.79 L591.00 139.37 L591.00 216.30 L591.50 216.30 L591.50 142.56 L592.00 192.09 L592.00 216.30 L592.50 216.30 L592.50 152.25 L593.00 146.62 L593.00 216.30 L593.50 215.42 L593.50 133.09 L594.00 141.81 L594.00 216.30 L594.50 216.30 L594.50 154.50 L595.00 151.19 L595.00 216.30 L595.50 216.30 L595.50 170.03 L596.00 153.67 L596.00 216.30 L596.50 214.52 L596.50 145.67 L597.00 158.66 L597.00 216.30 L597.50 216.30 L597.50 123.14 L598.00 153.29 L598.00 216.30 L598.50 216.30 L598.50 152.59 L599.00 152.01 L599.00 216.30 L599.50 213.08 L599.50 147.55 L600.00 167.95 L600.00 216.30 L600.50 216.30 L600.50 148.05 L601.00 160.08 L601.00 216.30 L601.50 216.30 L601.50 150.73 L602.00 149.03 L602.00 216.30 L602.50 216.30 L602.50 153.92 L603.00 154.35 L603.00 216.30 L603.50 216.30 L603.50 159.98 L604.00 144.35 L604.00 216.14 L604.50 216.30 L604.50 155.73 L605.00 154.17 L605.00 215.35 L605.50 216.30 L605.50 155.57 L606.00 151.39 L606.00 215.31 L606.50 216.30 L606.50 155.18 L607.00 153.69 L607.00 216.30 L607.50 216.30 L607.50 164.40 L608.00 153.06 L608.00 216.30 L608.50 216.30 L608.50 157.95 L609.00 154.56 L609.00 216.30 L609.50 216.30 L609.50 158.49 L610.00 155.76 L610.00 216.30 L610.50 216.30 L610.50 157.85 L611.00 159.77 L611.00 216.30 L611.50 216.30 L611.50 160.54 L612.00 157.93 L612.00 216.30 L612.50 207.44 L612.50 162.65 L613.00 157.79 L613.00 209.84 L613.50 216.30 L613.50 155.96 L614.00 155.82 L614.00 216.30 L614.50 216.30 L614.50 160.71 L615.00 155.52 L615.00 216.30 L615.50 216.30 L615.50 157.15 L616.00 156.12 L616.00 216.30 L616.50 216.30 L616.50 159.48 L617.00 163.07 L617.00 216.30 L617.50 216.30 L617.50 157.59 L618.00 159.09 L618.00 216.30 L618.50 216.30 L618.50 167.43 L619.00 161.27 L619.00 204.29 L619.50 213.36 L619.50 165.78 L620.00 176.76 L620.00 216.30 L620.50 216.30 L620.50 162.52 L621.00 159.76 L621.00 216.30 L621.50 216.30 L621.50 157.32 L622.00 157.94 L622.00 216.30 L622.50 216.30 L622.50 165.94 L623.00 159.62 L623.00 216.30 L623.50 216.30 L623.50 169.20 L624.00 159.40 L624.00 216.30 L624.50 216.30 L624.50 158.75 L625.00 171.61 L625.00 216.30 L625.50 211.03 L625.50 165.98 L626.00 164.72 L626.00 216.30 L626.50 216.30 L626.50 161.70 L627.00 161.81 L627.00 215.61 L627.50 216.30 L627.50 160.83 L628.00 168.37 L628.00 211.98 L628.50 216.30 L628.50 170.19 L629.00 158.90 L629.00 216.30 L629.50 216.30 L629.50 159.57 L630.00 159.26 L630.00 216.30 L630.50 216.30 L630.50 176.87 L631.00 161.83 L631.00 216.30 L631.50 216.30 L631.50 160.53 L632.00 164.31 L632.00 216.30 L632.50 216.30 L632.50 165.75 L633.00 170.63 L633.00 216.30 L633.50 216.30 L633.50 166.10 L634.00 155.75 L634.00 216.30 L634.50 216.30 L634.50 162.28 L635.00 160.94 L635.00 216.30 L635.50 216.30 L635.50 165.58 L636.00 167.96 L636.00 216.30 L636.50 216.30 L636.50 159.97 L637.00 159.73 L637.00 216.30 L637.50 213.38 L637.50 165.81 L638.00 168.66 L638.00 216.30 L638.50 216.30 L638.50 169.45 L639.00 162.73 L639.00 216.30 L639.50 216.30 L639.50 166.14 L640.00 161.28 L640.00 216.30 L640.50 216.30 L640.50 160.68 L641.00 160.28 L641.00 216.30 L641.50 216.30 L641.50 159.24 L642.00 161.16 L642.00 216.30 L642.50 216.30 L642.50 165.39 L643.00 166.06 L643.00 216.30 L643.50 216.30 L643.50 166.83 L644.00 170.04 L644.00 216.30 L644.50 216.30 L644.50 161.43 L645.00 164.82 L645.00 213.38 L645.50 216.30 L645.50 164.40 L646.00 162.06 L646.00 216.30 L646.50 216.30 L646.50 162.95 L647.00 166.90 L647.00 216.30 L647.50 216.30 L647.50 174.66 L648.00 161.71 L648.00 216.30 L648.50 216.30 L648.50 161.01 L649.00 167.63 L649.00 216.30 L649.50 214.70 L649.50 161.58 L650.00 164.71 L650.00 216.30 L650.50 210.15 L650.50 161.83 L651.00 162.69 L651.00 216.30 L651.50 216.30 L651.50 162.16 L652.00 160.74 L652.00 216.30 L652.50 216.07 L652.50 163.05 L653.00 161.76 L653.00 216.30 L653.50 216.30 L653.50 168.70 L654.00 163.97 L654.00 216.30 L654.50 216.30 L654.50 165.00 L655.00 164.56 L655.00 216.30 L655.50 216.30 L655.50 163.82 L656.00 162.54 L656.00 216.30 L656.50 216.30 L656.50 167.74 L657.00 163.51 L657.00 216.30 L657.50 216.30 L657.50 161.33 L658.00 168.54 L658.00 216.30 L658.50 216.30 L658.50 163.27 L659.00 168.86 L659.00 216.30 L659.50 216.30 L659.50 165.52 L660.00 161.12 L660.00 216.30 L660.50 216.30 L660.50 165.24 L661.00 172.37 L661.00 202.63 L661.50 216.30 L661.50 173.00 L662.00 165.03 L662.00 216.30 L662.50 216.30 L662.50 165.66 L663.00 163.30 L663.00 216.30 L663.50 216.30 L663.50 163.61 L664.00 167.09 L664.00 216.30" fill="none" stroke="#000000" stroke-width="1.2" stroke-linejoin="round" /><path d="M554.5 77.5V130" stroke="#000000" stroke-width="1.2"/><path d="M578.4 76V125" stroke="#000000" stroke-width="1.2"/><path d="M583.6 84.5V125" stroke="#000000" stroke-width="1.2"/><path d="M589.8 93V125" stroke="#000000" stroke-width="1.2"/><path d="M637.7 144V170" stroke="#000000" stroke-width="1.2"/><path d="M644.6 141.6V170" stroke="#000000" stroke-width="1.2"/><path d="M648 150V170" stroke="#000000" stroke-width="1.2"/><path d="M488.55 130.95 L491.68 139.59 L494.47 140.62 L496.99 144.87 L499.30 138.42 L501.42 150.89 L503.39 147.25 L505.21 153.43 L506.92 142.10 L508.53 143.12 L510.05 146.78 L511.48 157.10 L512.84 156.41 L514.13 156.71 L515.36 150.32 L516.54 163.82 L517.67 170.48 L518.75 150.40 L519.79 154.35 L520.79 153.27 L521.76 156.87 L522.69 161.29 L523.58 156.74 L524.45 159.31 L525.29 166.85 L526.11 162.42 L526.90 154.78 L527.67 166.26 L528.42 170.34 L529.14 158.29 L529.85 159.86 L530.54 162.56 L531.21 156.92 L531.86 158.64 L532.50 170.77 L533.12 168.84 L533.73 177.17 L534.33 163.26 L534.91 154.23" fill="none" stroke="#00ff00" stroke-width="0.9" stroke-linejoin="round" /><path d="M557.6 176.6V199.8M560.8 170.3V183.9M564.0 177.9V214.0M567.2 177.0V188.3M568.8 176.1V184.7M573.6 181.8V208.8M578.4 177.5V207.7M584.8 178.6V200.9M591.2 187.6V203.0M592.8 185.9V195.2M596.0 193.6V214.0M597.6 186.9V202.8M600.8 188.8V214.0M602.4 191.8V213.5" stroke="#00ff00" stroke-width="1.1"/></g>
<g stroke="#707070" stroke-width="1.15" fill="none">
<rect x="387.9" y="11.5" width="276.8" height="201.9"/>
<path d="M388.30 213.4v-1.8 M388.30 11.5v1.8 M395.92 213.4v-1.8 M395.92 11.5v1.8 M401.84 213.4v-1.8 M401.84 11.5v1.8 M406.67 213.4v-1.8 M406.67 11.5v1.8 M410.76 213.4v-1.8 M410.76 11.5v1.8 M414.29 213.4v-1.8 M414.29 11.5v1.8 M417.42 213.4v-1.8 M417.42 11.5v1.8 M420.21 213.4v-3.2 M420.21 11.5v3.2 M438.58 213.4v-1.8 M438.58 11.5v1.8 M449.32 213.4v-1.8 M449.32 11.5v1.8 M456.95 213.4v-1.8 M456.95 11.5v1.8 M462.86 213.4v-1.8 M462.86 11.5v1.8 M467.69 213.4v-1.8 M467.69 11.5v1.8 M471.78 213.4v-1.8 M471.78 11.5v1.8 M475.32 213.4v-1.8 M475.32 11.5v1.8 M478.44 213.4v-1.8 M478.44 11.5v1.8 M481.23 213.4v-3.2 M481.23 11.5v3.2 M499.60 213.4v-1.8 M499.60 11.5v1.8 M510.35 213.4v-1.8 M510.35 11.5v1.8 M517.97 213.4v-1.8 M517.97 11.5v1.8 M523.88 213.4v-1.8 M523.88 11.5v1.8 M528.72 213.4v-1.8 M528.72 11.5v1.8 M532.80 213.4v-1.8 M532.80 11.5v1.8 M536.34 213.4v-1.8 M536.34 11.5v1.8 M539.46 213.4v-1.8 M539.46 11.5v1.8 M542.25 213.4v-3.2 M542.25 11.5v3.2 M560.62 213.4v-1.8 M560.62 11.5v1.8 M571.37 213.4v-1.8 M571.37 11.5v1.8 M578.99 213.4v-1.8 M578.99 11.5v1.8 M584.91 213.4v-1.8 M584.91 11.5v1.8 M589.74 213.4v-1.8 M589.74 11.5v1.8 M593.82 213.4v-1.8 M593.82 11.5v1.8 M597.36 213.4v-1.8 M597.36 11.5v1.8 M600.48 213.4v-1.8 M600.48 11.5v1.8 M603.28 213.4v-3.2 M603.28 11.5v3.2 M621.65 213.4v-1.8 M621.65 11.5v1.8 M632.39 213.4v-1.8 M632.39 11.5v1.8 M640.02 213.4v-1.8 M640.02 11.5v1.8 M645.93 213.4v-1.8 M645.93 11.5v1.8 M650.76 213.4v-1.8 M650.76 11.5v1.8 M654.85 213.4v-1.8 M654.85 11.5v1.8 M658.39 213.4v-1.8 M658.39 11.5v1.8 M661.51 213.4v-1.8 M661.51 11.5v1.8 M664.30 213.4v-3.2 M664.30 11.5v3.2 M387.9 11.40h3 M664.7 11.40h-3 M387.9 51.78h3 M664.7 51.78h-3 M387.9 92.16h3 M664.7 92.16h-3 M387.9 132.54h3 M664.7 132.54h-3 M387.9 172.92h3 M664.7 172.92h-3 M387.9 213.30h3 M664.7 213.30h-3"/>
</g>
<g font-family="Liberation Sans, Arial, sans-serif" font-size="10.2" fill="#1a1a1a" stroke="#1a1a1a" stroke-width="0.25">
<text x="379.2" y="15.1" text-anchor="end">10</text>
<text x="379.59999999999997" y="7.0" font-size="7.5">4</text>
<text x="379.2" y="55.5" text-anchor="end">10</text>
<text x="379.59999999999997" y="47.4" font-size="7.5">2</text>
<text x="379.2" y="95.9" text-anchor="end">10</text>
<text x="379.59999999999997" y="87.8" font-size="7.5">0</text>
<text x="379.2" y="136.2" text-anchor="end">10</text>
<text x="379.59999999999997" y="128.1" font-size="7.5">-2</text>
<text x="379.2" y="176.6" text-anchor="end">10</text>
<text x="379.59999999999997" y="168.5" font-size="7.5">-4</text>
<text x="379.2" y="217.0" text-anchor="end">10</text>
<text x="379.59999999999997" y="208.9" font-size="7.5">-6</text>
<text x="420.0" y="229.4" text-anchor="middle">10<tspan font-size="7.5" dy="-8">-1</tspan></text>
<text x="481.0" y="229.4" text-anchor="middle">10<tspan font-size="7.5" dy="-8">0</tspan></text>
<text x="542.1" y="229.4" text-anchor="middle">10<tspan font-size="7.5" dy="-8">1</tspan></text>
<text x="603.1" y="229.4" text-anchor="middle">10<tspan font-size="7.5" dy="-8">2</tspan></text>
<text x="664.1" y="229.4" text-anchor="middle">10<tspan font-size="7.5" dy="-8">3</tspan></text>
</g>
<rect x="519.5" y="15.5" width="140.5" height="58.3" fill="#fff" stroke="#707070" stroke-width="1"/>
<path d="M523 22.9H542.7" stroke="#e23a4a" stroke-width="1.3"/>
<text x="544.6" y="27.3" font-family="Liberation Sans, Arial, sans-serif" font-size="11.7" fill="#1a1a1a" stroke="#1a1a1a" stroke-width="0.25">Open Loop</text>
<path d="M523 37.0H542.7" stroke="#4fe24f" stroke-width="1.3"/>
<text x="544.6" y="41.4" font-family="Liberation Sans, Arial, sans-serif" font-size="11.7" fill="#1a1a1a" stroke="#1a1a1a" stroke-width="0.25">Only Phase-locking</text>
<path d="M523 51.0H542.7" stroke="#3838dc" stroke-width="1.3"/>
<text x="544.6" y="55.4" font-family="Liberation Sans, Arial, sans-serif" font-size="11.7" fill="#1a1a1a" stroke="#1a1a1a" stroke-width="0.25">Only Ti-tilt Control On</text>
<path d="M523 65.0H542.7" stroke="#111" stroke-width="1.3"/>
<text x="544.6" y="69.5" font-family="Liberation Sans, Arial, sans-serif" font-size="11.7" fill="#1a1a1a" stroke="#1a1a1a" stroke-width="0.25">Closed Loop</text>
</svg></body></html>
